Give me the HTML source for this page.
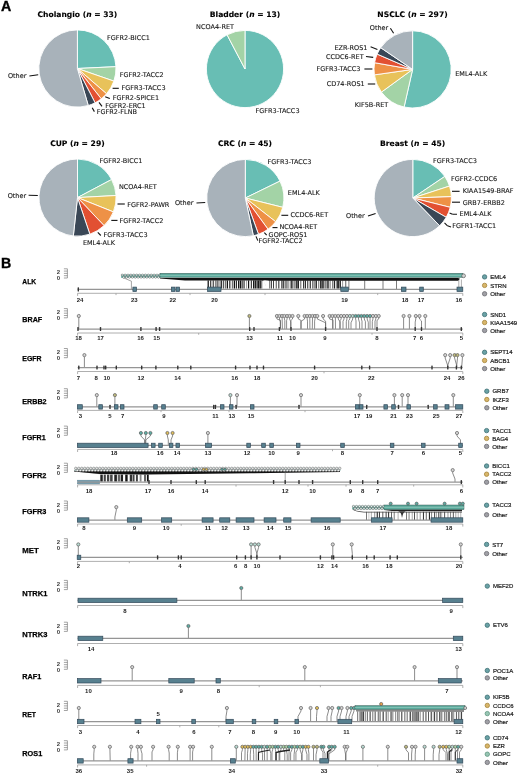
<!DOCTYPE html>
<html><head><meta charset="utf-8"><title>Fusion figure</title><style>
html,body{margin:0;padding:0;background:#fff;width:520px;height:774px;overflow:hidden}
svg{display:block}
.tt{font-family:"DejaVu Sans",sans-serif;font-weight:bold;font-size:7.6px;fill:#000;stroke:#000;stroke-width:0.12}
.pl{font-family:"DejaVu Sans",sans-serif;font-size:6.5px;fill:#151515;stroke:#151515;stroke-width:0.1}
.ld{stroke:#111;stroke-width:1.1}
.pn{font-family:"Liberation Sans",Arial,sans-serif;font-weight:bold;font-size:14.2px;fill:#000;stroke:#000;stroke-width:0.35}
.gn{font-family:"Liberation Sans",Arial,sans-serif;font-weight:bold;font-size:7.8px;fill:#000;stroke:#000;stroke-width:0.25}
.yl{font-family:"Liberation Sans",Arial,sans-serif;font-weight:bold;font-size:6.0px;fill:#3a3a3a;text-anchor:middle}
.ya{stroke:#666;stroke-width:0.6}
.tr{stroke:#959595;stroke-width:1.25}
.xa{stroke:#9a9a9a;stroke-width:0.8;fill:none}
.ex{fill:#57808f;stroke:#33495a;stroke-width:0.7}
.br{fill:#333}
.xn{font-family:"Liberation Sans",Arial,sans-serif;font-weight:bold;font-size:6.0px;fill:#222;text-anchor:middle}
.st{stroke:#5a5a5a;stroke-width:0.7;fill:none}
.hd{stroke:#555;stroke-width:0.65}
.lg{stroke:#666;stroke-width:0.5}
.lt{font-family:"Liberation Sans",Arial,sans-serif;font-size:6px;fill:#1a1a1a;stroke:#1a1a1a;stroke-width:0.2}
</style></head>
<body><svg width="520" height="774" viewBox="0 0 520 774">
<rect width="520" height="774" fill="#fff"/>
<path d="M77.4,68.5 L77.4,29.9 A38.6,38.6 0 0 1 115.96,66.66 Z" fill="#68beb4" stroke="#fff" stroke-width="0.9" stroke-linejoin="round"/>
<path d="M77.4,68.5 L115.96,66.66 A38.6,38.6 0 0 1 113.88,81.12 Z" fill="#a3d3a6" stroke="#fff" stroke-width="0.9" stroke-linejoin="round"/>
<path d="M77.4,68.5 L113.88,81.12 A38.6,38.6 0 0 1 106.57,93.78 Z" fill="#e8c25a" stroke="#fff" stroke-width="0.9" stroke-linejoin="round"/>
<path d="M77.4,68.5 L106.57,93.78 A38.6,38.6 0 0 1 101.26,98.84 Z" fill="#ee9146" stroke="#fff" stroke-width="0.9" stroke-linejoin="round"/>
<path d="M77.4,68.5 L101.26,98.84 A38.6,38.6 0 0 1 95.09,102.81 Z" fill="#e25032" stroke="#fff" stroke-width="0.9" stroke-linejoin="round"/>
<path d="M77.4,68.5 L95.09,102.81 A38.6,38.6 0 0 1 88.27,105.54 Z" fill="#3a4756" stroke="#fff" stroke-width="0.9" stroke-linejoin="round"/>
<path d="M77.4,68.5 L88.27,105.54 A38.6,38.6 0 1 1 77.4,29.9 Z" fill="#a8b2ba" stroke="#fff" stroke-width="0.9" stroke-linejoin="round"/>
<path d="M245,69 L245,30.4 A38.6,38.6 0 1 1 227.06,34.82 Z" fill="#68beb4" stroke="#fff" stroke-width="0.9" stroke-linejoin="round"/>
<path d="M245,69 L227.06,34.82 A38.6,38.6 0 0 1 245,30.4 Z" fill="#a3d3a6" stroke="#fff" stroke-width="0.9" stroke-linejoin="round"/>
<path d="M412.6,69.4 L412.6,30.8 A38.6,38.6 0 1 1 404.1,107.05 Z" fill="#68beb4" stroke="#fff" stroke-width="0.9" stroke-linejoin="round"/>
<path d="M412.6,69.4 L404.1,107.05 A38.6,38.6 0 0 1 381.4,92.12 Z" fill="#a3d3a6" stroke="#fff" stroke-width="0.9" stroke-linejoin="round"/>
<path d="M412.6,69.4 L381.4,92.12 A38.6,38.6 0 0 1 374.39,74.89 Z" fill="#e8c25a" stroke="#fff" stroke-width="0.9" stroke-linejoin="round"/>
<path d="M412.6,69.4 L374.39,74.89 A38.6,38.6 0 0 1 374.59,62.7 Z" fill="#ee9146" stroke="#fff" stroke-width="0.9" stroke-linejoin="round"/>
<path d="M412.6,69.4 L374.59,62.7 A38.6,38.6 0 0 1 377.16,54.11 Z" fill="#e25032" stroke="#fff" stroke-width="0.9" stroke-linejoin="round"/>
<path d="M412.6,69.4 L377.16,54.11 A38.6,38.6 0 0 1 380.69,47.68 Z" fill="#3a4756" stroke="#fff" stroke-width="0.9" stroke-linejoin="round"/>
<path d="M412.6,69.4 L380.69,47.68 A38.6,38.6 0 0 1 412.6,30.8 Z" fill="#a8b2ba" stroke="#fff" stroke-width="0.9" stroke-linejoin="round"/>
<path d="M77.5,197.6 L77.5,159 A38.6,38.6 0 0 1 111.6,179.52 Z" fill="#68beb4" stroke="#fff" stroke-width="0.9" stroke-linejoin="round"/>
<path d="M77.5,197.6 L111.6,179.52 A38.6,38.6 0 0 1 116.04,195.51 Z" fill="#a3d3a6" stroke="#fff" stroke-width="0.9" stroke-linejoin="round"/>
<path d="M77.5,197.6 L116.04,195.51 A38.6,38.6 0 0 1 113.36,211.89 Z" fill="#e8c25a" stroke="#fff" stroke-width="0.9" stroke-linejoin="round"/>
<path d="M77.5,197.6 L113.36,211.89 A38.6,38.6 0 0 1 104.05,225.62 Z" fill="#ee9146" stroke="#fff" stroke-width="0.9" stroke-linejoin="round"/>
<path d="M77.5,197.6 L104.05,225.62 A38.6,38.6 0 0 1 89.83,234.18 Z" fill="#e25032" stroke="#fff" stroke-width="0.9" stroke-linejoin="round"/>
<path d="M77.5,197.6 L89.83,234.18 A38.6,38.6 0 0 1 73.33,235.97 Z" fill="#3a4756" stroke="#fff" stroke-width="0.9" stroke-linejoin="round"/>
<path d="M77.5,197.6 L73.33,235.97 A38.6,38.6 0 0 1 77.5,159 Z" fill="#a8b2ba" stroke="#fff" stroke-width="0.9" stroke-linejoin="round"/>
<path d="M245.3,198 L245.3,159.4 A38.6,38.6 0 0 1 279.99,181.08 Z" fill="#68beb4" stroke="#fff" stroke-width="0.9" stroke-linejoin="round"/>
<path d="M245.3,198 L279.99,181.08 A38.6,38.6 0 0 1 282.75,207.34 Z" fill="#a3d3a6" stroke="#fff" stroke-width="0.9" stroke-linejoin="round"/>
<path d="M245.3,198 L282.75,207.34 A38.6,38.6 0 0 1 275.72,221.76 Z" fill="#e8c25a" stroke="#fff" stroke-width="0.9" stroke-linejoin="round"/>
<path d="M245.3,198 L275.72,221.76 A38.6,38.6 0 0 1 267.99,229.23 Z" fill="#ee9146" stroke="#fff" stroke-width="0.9" stroke-linejoin="round"/>
<path d="M245.3,198 L267.99,229.23 A38.6,38.6 0 0 1 258.5,234.27 Z" fill="#e25032" stroke="#fff" stroke-width="0.9" stroke-linejoin="round"/>
<path d="M245.3,198 L258.5,234.27 A38.6,38.6 0 0 1 253.33,235.76 Z" fill="#3a4756" stroke="#fff" stroke-width="0.9" stroke-linejoin="round"/>
<path d="M245.3,198 L253.33,235.76 A38.6,38.6 0 1 1 245.3,159.4 Z" fill="#a8b2ba" stroke="#fff" stroke-width="0.9" stroke-linejoin="round"/>
<path d="M412.8,198 L412.8,159.4 A38.6,38.6 0 0 1 444.8,176.42 Z" fill="#68beb4" stroke="#fff" stroke-width="0.9" stroke-linejoin="round"/>
<path d="M412.8,198 L444.8,176.42 A38.6,38.6 0 0 1 449.51,186.07 Z" fill="#a3d3a6" stroke="#fff" stroke-width="0.9" stroke-linejoin="round"/>
<path d="M412.8,198 L449.51,186.07 A38.6,38.6 0 0 1 451.38,196.65 Z" fill="#e8c25a" stroke="#fff" stroke-width="0.9" stroke-linejoin="round"/>
<path d="M412.8,198 L451.38,196.65 A38.6,38.6 0 0 1 450.25,207.34 Z" fill="#ee9146" stroke="#fff" stroke-width="0.9" stroke-linejoin="round"/>
<path d="M412.8,198 L450.25,207.34 A38.6,38.6 0 0 1 446.23,217.3 Z" fill="#e25032" stroke="#fff" stroke-width="0.9" stroke-linejoin="round"/>
<path d="M412.8,198 L446.23,217.3 A38.6,38.6 0 0 1 439.61,225.77 Z" fill="#3a4756" stroke="#fff" stroke-width="0.9" stroke-linejoin="round"/>
<path d="M412.8,198 L439.61,225.77 A38.6,38.6 0 1 1 412.8,159.4 Z" fill="#a8b2ba" stroke="#fff" stroke-width="0.9" stroke-linejoin="round"/>
<text x="77.4" y="17" text-anchor="middle" class="tt">Cholangio (<tspan font-style="italic">n</tspan> = 33)</text>
<text x="245" y="16.8" text-anchor="middle" class="tt">Bladder (<tspan font-style="italic">n</tspan> = 13)</text>
<text x="412.5" y="16.8" text-anchor="middle" class="tt">NSCLC (<tspan font-style="italic">n</tspan> = 297)</text>
<text x="77.4" y="146.2" text-anchor="middle" class="tt">CUP (<tspan font-style="italic">n</tspan> = 29)</text>
<text x="245" y="146.2" text-anchor="middle" class="tt">CRC (<tspan font-style="italic">n</tspan> = 45)</text>
<text x="412.6" y="146.2" text-anchor="middle" class="tt">Breast (<tspan font-style="italic">n</tspan> = 45)</text>
<text x="107" y="40" class="pl">FGFR2-BICC1</text>
<text x="119.8" y="77" class="pl">FGFR2-TACC2</text>
<text x="121.6" y="90.4" class="pl">FGFR3-TACC3</text>
<line x1="112.6" y1="88.3" x2="118.8" y2="88.3" class="ld"/>
<text x="112.8" y="100.4" class="pl">FGFR2-SPICE1</text>
<line x1="105.2" y1="96.8" x2="109.8" y2="98.6" class="ld"/>
<text x="105.2" y="107.7" class="pl">FGFR2-ERC1</text>
<line x1="99" y1="102.4" x2="102" y2="106.4" class="ld"/>
<text x="96.8" y="114.2" class="pl">FGFR2-FLNB</text>
<line x1="92.2" y1="107.8" x2="94.4" y2="111.6" class="ld"/>
<text x="7.9" y="78.2" class="pl">Other</text>
<line x1="29.4" y1="76" x2="38.2" y2="74.8" class="ld"/>
<text x="196.1" y="29.2" class="pl">NCOA4-RET</text>
<text x="255.6" y="112.9" class="pl">FGFR3-TACC3</text>
<text x="369.8" y="29.7" class="pl">Other</text>
<line x1="390.4" y1="28.2" x2="393.6" y2="33.2" class="ld"/>
<text x="334.4" y="49.7" class="pl">EZR-ROS1</text>
<line x1="370.6" y1="46.8" x2="377.4" y2="49.4" class="ld"/>
<text x="326" y="58.9" class="pl">CCDC6-RET</text>
<line x1="366" y1="56.5" x2="373.2" y2="57.4" class="ld"/>
<text x="360.5" y="70.7" class="pl" text-anchor="end">FGFR3-TACC3</text>
<line x1="364.4" y1="69" x2="372.4" y2="69" class="ld"/>
<text x="326.7" y="86.2" class="pl">CD74-ROS1</text>
<line x1="367.8" y1="84" x2="375.2" y2="84" class="ld"/>
<text x="354.8" y="106.7" class="pl">KIF5B-RET</text>
<text x="455.2" y="75.9" class="pl">EML4-ALK</text>
<text x="99.6" y="163.1" class="pl">FGFR2-BICC1</text>
<text x="118.9" y="188.6" class="pl">NCOA4-RET</text>
<text x="127.3" y="206.6" class="pl">FGFR2-PAWR</text>
<line x1="117.5" y1="204" x2="124.8" y2="204" class="ld"/>
<text x="119.4" y="223.2" class="pl">FGFR2-TACC2</text>
<line x1="111.3" y1="220.4" x2="117.5" y2="220.4" class="ld"/>
<text x="103.6" y="237" class="pl">FGFR3-TACC3</text>
<line x1="97.8" y1="232.4" x2="100.8" y2="235.5" class="ld"/>
<text x="82.9" y="244.7" class="pl">EML4-ALK</text>
<text x="7.7" y="197.5" class="pl">Other</text>
<line x1="28.6" y1="195.3" x2="37.8" y2="195.5" class="ld"/>
<text x="267.5" y="163.5" class="pl">FGFR3-TACC3</text>
<text x="287.8" y="195.4" class="pl">EML4-ALK</text>
<text x="290.5" y="217" class="pl">CCDC6-RET</text>
<line x1="281.4" y1="215.3" x2="288.2" y2="215.3" class="ld"/>
<text x="279.4" y="229.3" class="pl">NCOA4-RET</text>
<line x1="272.5" y1="227.6" x2="277.5" y2="227.6" class="ld"/>
<text x="268.6" y="237.3" class="pl">GOPC-ROS1</text>
<line x1="264.3" y1="232.6" x2="266.7" y2="235.2" class="ld"/>
<text x="258.6" y="243.2" class="pl">FGFR2-TACC2</text>
<line x1="256" y1="236.4" x2="257.8" y2="240.6" class="ld"/>
<text x="174.9" y="205.4" class="pl">Other</text>
<line x1="196.5" y1="203" x2="205.2" y2="202.5" class="ld"/>
<text x="432.9" y="162.7" class="pl">FGFR3-TACC3</text>
<text x="450.9" y="181.2" class="pl">FGFR2-CCDC6</text>
<text x="462.7" y="193.3" class="pl">KIAA1549-BRAF</text>
<line x1="452" y1="191.3" x2="459.6" y2="191.3" class="ld"/>
<text x="462.7" y="204.7" class="pl">GRB7-ERBB2</text>
<line x1="452" y1="202.2" x2="460" y2="202.2" class="ld"/>
<text x="459.6" y="216" class="pl">EML4-ALK</text>
<line x1="449.6" y1="213" x2="452.5" y2="214.2" class="ld"/>
<line x1="452.5" y1="214.2" x2="457" y2="214.3" class="ld"/>
<text x="452.3" y="227.6" class="pl">FGFR1-TACC1</text>
<line x1="444.5" y1="222.8" x2="447.5" y2="225.8" class="ld"/>
<line x1="447.5" y1="225.8" x2="451" y2="227" class="ld"/>
<text x="346.1" y="217.5" class="pl">Other</text>
<line x1="368" y1="215.9" x2="375.6" y2="213.4" class="ld"/>
<text x="1.0" y="11.3" class="pn">A</text>
<text x="1.0" y="267.6" class="pn">B</text>
<line x1="67.4" y1="268.8" x2="67.4" y2="278" class="ya"/>
<line x1="63.9" y1="268.8" x2="67.4" y2="268.8" class="ya"/>
<line x1="63.9" y1="271.1" x2="67.4" y2="271.1" class="ya"/>
<line x1="63.9" y1="273.4" x2="67.4" y2="273.4" class="ya"/>
<line x1="63.9" y1="275.7" x2="67.4" y2="275.7" class="ya"/>
<line x1="63.9" y1="278" x2="67.4" y2="278" class="ya"/>
<path d="M77.6,295.9 V293.3 H462.8 V295.9" class="xa"/>
<line x1="116" y1="293.3" x2="116" y2="295.1" class="xa"/>
<line x1="190" y1="293.3" x2="190" y2="295.1" class="xa"/>
<line x1="265" y1="293.3" x2="265" y2="295.1" class="xa"/>
<line x1="377.7" y1="293.3" x2="377.7" y2="295.1" class="xa"/>
<line x1="67.4" y1="308.6" x2="67.4" y2="317.8" class="ya"/>
<line x1="63.9" y1="308.6" x2="67.4" y2="308.6" class="ya"/>
<line x1="63.9" y1="310.9" x2="67.4" y2="310.9" class="ya"/>
<line x1="63.9" y1="313.2" x2="67.4" y2="313.2" class="ya"/>
<line x1="63.9" y1="315.5" x2="67.4" y2="315.5" class="ya"/>
<line x1="63.9" y1="317.8" x2="67.4" y2="317.8" class="ya"/>
<path d="M77.6,335.6 V333 H462.8 V335.6" class="xa"/>
<line x1="198.7" y1="333" x2="198.7" y2="334.8" class="xa"/>
<line x1="372" y1="333" x2="372" y2="334.8" class="xa"/>
<line x1="67.4" y1="348.5" x2="67.4" y2="357.7" class="ya"/>
<line x1="63.9" y1="348.5" x2="67.4" y2="348.5" class="ya"/>
<line x1="63.9" y1="350.8" x2="67.4" y2="350.8" class="ya"/>
<line x1="63.9" y1="353.1" x2="67.4" y2="353.1" class="ya"/>
<line x1="63.9" y1="355.4" x2="67.4" y2="355.4" class="ya"/>
<line x1="63.9" y1="357.7" x2="67.4" y2="357.7" class="ya"/>
<path d="M77.6,374.1 V371.5 H462.8 V374.1" class="xa"/>
<line x1="324" y1="371.5" x2="324" y2="373.3" class="xa"/>
<line x1="67.4" y1="388.7" x2="67.4" y2="397.9" class="ya"/>
<line x1="63.9" y1="388.7" x2="67.4" y2="388.7" class="ya"/>
<line x1="63.9" y1="391" x2="67.4" y2="391" class="ya"/>
<line x1="63.9" y1="393.3" x2="67.4" y2="393.3" class="ya"/>
<line x1="63.9" y1="395.6" x2="67.4" y2="395.6" class="ya"/>
<line x1="63.9" y1="397.9" x2="67.4" y2="397.9" class="ya"/>
<path d="M77.6,413 V410.4 H462.8 V413" class="xa"/>
<line x1="161" y1="410.4" x2="161" y2="412.2" class="xa"/>
<line x1="229" y1="410.4" x2="229" y2="412.2" class="xa"/>
<line x1="305" y1="410.4" x2="305" y2="412.2" class="xa"/>
<line x1="67.4" y1="426.1" x2="67.4" y2="435.3" class="ya"/>
<line x1="63.9" y1="426.1" x2="67.4" y2="426.1" class="ya"/>
<line x1="63.9" y1="428.4" x2="67.4" y2="428.4" class="ya"/>
<line x1="63.9" y1="430.7" x2="67.4" y2="430.7" class="ya"/>
<line x1="63.9" y1="433" x2="67.4" y2="433" class="ya"/>
<line x1="63.9" y1="435.3" x2="67.4" y2="435.3" class="ya"/>
<path d="M77.6,452 V449.4 H462.8 V452" class="xa"/>
<line x1="332.5" y1="449.4" x2="332.5" y2="451.2" class="xa"/>
<line x1="67.4" y1="463.2" x2="67.4" y2="472.4" class="ya"/>
<line x1="63.9" y1="463.2" x2="67.4" y2="463.2" class="ya"/>
<line x1="63.9" y1="465.5" x2="67.4" y2="465.5" class="ya"/>
<line x1="63.9" y1="467.8" x2="67.4" y2="467.8" class="ya"/>
<line x1="63.9" y1="470.1" x2="67.4" y2="470.1" class="ya"/>
<line x1="63.9" y1="472.4" x2="67.4" y2="472.4" class="ya"/>
<path d="M77.6,487.4 V484.8 H462.8 V487.4" class="xa"/>
<line x1="236" y1="484.8" x2="236" y2="486.6" class="xa"/>
<line x1="308" y1="484.8" x2="308" y2="486.6" class="xa"/>
<line x1="346" y1="484.8" x2="346" y2="486.6" class="xa"/>
<line x1="413.7" y1="484.8" x2="413.7" y2="486.6" class="xa"/>
<line x1="67.4" y1="501" x2="67.4" y2="510.2" class="ya"/>
<line x1="63.9" y1="501" x2="67.4" y2="501" class="ya"/>
<line x1="63.9" y1="503.3" x2="67.4" y2="503.3" class="ya"/>
<line x1="63.9" y1="505.6" x2="67.4" y2="505.6" class="ya"/>
<line x1="63.9" y1="507.9" x2="67.4" y2="507.9" class="ya"/>
<line x1="63.9" y1="510.2" x2="67.4" y2="510.2" class="ya"/>
<path d="M77.6,526.6 V524 H462.8 V526.6" class="xa"/>
<line x1="181.2" y1="524" x2="181.2" y2="525.8" class="xa"/>
<line x1="67.4" y1="538.7" x2="67.4" y2="547.9" class="ya"/>
<line x1="63.9" y1="538.7" x2="67.4" y2="538.7" class="ya"/>
<line x1="63.9" y1="541" x2="67.4" y2="541" class="ya"/>
<line x1="63.9" y1="543.3" x2="67.4" y2="543.3" class="ya"/>
<line x1="63.9" y1="545.6" x2="67.4" y2="545.6" class="ya"/>
<line x1="63.9" y1="547.9" x2="67.4" y2="547.9" class="ya"/>
<path d="M77.6,564 V561.4 H462.8 V564" class="xa"/>
<line x1="129.3" y1="561.4" x2="129.3" y2="563.2" class="xa"/>
<line x1="67.4" y1="580.4" x2="67.4" y2="589.6" class="ya"/>
<line x1="63.9" y1="580.4" x2="67.4" y2="580.4" class="ya"/>
<line x1="63.9" y1="582.7" x2="67.4" y2="582.7" class="ya"/>
<line x1="63.9" y1="585" x2="67.4" y2="585" class="ya"/>
<line x1="63.9" y1="587.3" x2="67.4" y2="587.3" class="ya"/>
<line x1="63.9" y1="589.6" x2="67.4" y2="589.6" class="ya"/>
<path d="M77.6,608.1 V605.5 H462.8 V608.1" class="xa"/>
<line x1="67.4" y1="622.2" x2="67.4" y2="631.4" class="ya"/>
<line x1="63.9" y1="622.2" x2="67.4" y2="622.2" class="ya"/>
<line x1="63.9" y1="624.5" x2="67.4" y2="624.5" class="ya"/>
<line x1="63.9" y1="626.8" x2="67.4" y2="626.8" class="ya"/>
<line x1="63.9" y1="629.1" x2="67.4" y2="629.1" class="ya"/>
<line x1="63.9" y1="631.4" x2="67.4" y2="631.4" class="ya"/>
<path d="M77.6,646.1 V643.5 H462.8 V646.1" class="xa"/>
<line x1="67.4" y1="660.1" x2="67.4" y2="669.3" class="ya"/>
<line x1="63.9" y1="660.1" x2="67.4" y2="660.1" class="ya"/>
<line x1="63.9" y1="662.4" x2="67.4" y2="662.4" class="ya"/>
<line x1="63.9" y1="664.7" x2="67.4" y2="664.7" class="ya"/>
<line x1="63.9" y1="667" x2="67.4" y2="667" class="ya"/>
<line x1="63.9" y1="669.3" x2="67.4" y2="669.3" class="ya"/>
<path d="M77.6,688 V685.4 H462.8 V688" class="xa"/>
<line x1="259.2" y1="685.4" x2="259.2" y2="687.2" class="xa"/>
<line x1="320.4" y1="685.4" x2="320.4" y2="687.2" class="xa"/>
<line x1="67.4" y1="701.3" x2="67.4" y2="710.5" class="ya"/>
<line x1="63.9" y1="701.3" x2="67.4" y2="701.3" class="ya"/>
<line x1="63.9" y1="703.6" x2="67.4" y2="703.6" class="ya"/>
<line x1="63.9" y1="705.9" x2="67.4" y2="705.9" class="ya"/>
<line x1="63.9" y1="708.2" x2="67.4" y2="708.2" class="ya"/>
<line x1="63.9" y1="710.5" x2="67.4" y2="710.5" class="ya"/>
<path d="M77.6,728.1 V725.5 H462.8 V728.1" class="xa"/>
<line x1="179.8" y1="725.5" x2="179.8" y2="727.3" class="xa"/>
<line x1="218.8" y1="725.5" x2="218.8" y2="727.3" class="xa"/>
<line x1="67.4" y1="740.7" x2="67.4" y2="749.9" class="ya"/>
<line x1="63.9" y1="740.7" x2="67.4" y2="740.7" class="ya"/>
<line x1="63.9" y1="743" x2="67.4" y2="743" class="ya"/>
<line x1="63.9" y1="745.3" x2="67.4" y2="745.3" class="ya"/>
<line x1="63.9" y1="747.6" x2="67.4" y2="747.6" class="ya"/>
<line x1="63.9" y1="749.9" x2="67.4" y2="749.9" class="ya"/>
<path d="M77.6,767.5 V764.9 H462.8 V767.5" class="xa"/>
<line x1="146.6" y1="764.9" x2="146.6" y2="766.7" class="xa"/>
<line x1="377.7" y1="764.9" x2="377.7" y2="766.7" class="xa"/>
<rect x="207.5" y="280.4" width="1.49" height="8.2" fill="#333"/>
<rect x="210.11" y="280.4" width="1.16" height="8.2" fill="#333"/>
<rect x="212.73" y="280.4" width="0.95" height="8.2" fill="#111"/>
<rect x="214.89" y="280.4" width="1.29" height="8.2" fill="#888"/>
<rect x="216.63" y="280.4" width="1.04" height="8.2" fill="#333"/>
<rect x="218.25" y="280.4" width="1.31" height="8.2" fill="#888"/>
<rect x="220.52" y="280.4" width="1.57" height="8.2" fill="#333"/>
<rect x="222.88" y="280.4" width="1.32" height="8.2" fill="#555"/>
<rect x="225.19" y="280.4" width="0.85" height="8.2" fill="#555"/>
<rect x="226.73" y="280.4" width="1.28" height="8.2" fill="#111"/>
<rect x="229.24" y="280.4" width="1.15" height="8.2" fill="#222"/>
<rect x="231.84" y="280.4" width="0.99" height="8.2" fill="#555"/>
<rect x="233.72" y="280.4" width="1.33" height="8.2" fill="#111"/>
<rect x="235.82" y="280.4" width="1.13" height="8.2" fill="#222"/>
<rect x="238.03" y="280.4" width="1.37" height="8.2" fill="#111"/>
<rect x="239.94" y="280.4" width="1.21" height="8.2" fill="#111"/>
<rect x="241.48" y="280.4" width="1.41" height="8.2" fill="#555"/>
<rect x="243.5" y="280.4" width="1.11" height="8.2" fill="#222"/>
<rect x="246.25" y="280.4" width="0.8" height="8.2" fill="#888"/>
<rect x="248.02" y="280.4" width="1.18" height="8.2" fill="#111"/>
<rect x="250.79" y="280.4" width="1.14" height="8.2" fill="#333"/>
<rect x="253.03" y="280.4" width="1.42" height="8.2" fill="#111"/>
<rect x="254.88" y="280.4" width="1.05" height="8.2" fill="#111"/>
<rect x="256.4" y="280.4" width="1.41" height="8.2" fill="#333"/>
<rect x="258.05" y="280.4" width="1.37" height="8.2" fill="#111"/>
<rect x="259.57" y="280.4" width="1.44" height="8.2" fill="#333"/>
<rect x="261.3" y="280.4" width="0.95" height="8.2" fill="#555"/>
<rect x="269" y="280.4" width="1.42" height="8.2" fill="#888"/>
<rect x="271.04" y="280.4" width="0.89" height="8.2" fill="#333"/>
<rect x="273.09" y="280.4" width="0.8" height="8.2" fill="#111"/>
<rect x="275.72" y="280.4" width="1.04" height="8.2" fill="#555"/>
<rect x="278.37" y="280.4" width="0.95" height="8.2" fill="#111"/>
<rect x="281.16" y="280.4" width="1.31" height="8.2" fill="#555"/>
<rect x="282.79" y="280.4" width="0.97" height="8.2" fill="#111"/>
<rect x="284.63" y="280.4" width="1.06" height="8.2" fill="#555"/>
<rect x="286.51" y="280.4" width="0.86" height="8.2" fill="#111"/>
<rect x="288.28" y="280.4" width="0.99" height="8.2" fill="#888"/>
<rect x="290.56" y="280.4" width="1.3" height="8.2" fill="#222"/>
<rect x="292.23" y="280.4" width="1.19" height="8.2" fill="#555"/>
<rect x="294.48" y="280.4" width="0.95" height="8.2" fill="#333"/>
<rect x="296.18" y="280.4" width="1.45" height="8.2" fill="#111"/>
<rect x="298" y="280.4" width="0.93" height="8.2" fill="#111"/>
<rect x="300.32" y="280.4" width="0.96" height="8.2" fill="#555"/>
<rect x="303.05" y="280.4" width="1.28" height="8.2" fill="#333"/>
<rect x="305.1" y="280.4" width="0.89" height="8.2" fill="#111"/>
<rect x="307.27" y="280.4" width="0.99" height="8.2" fill="#222"/>
<rect x="309.68" y="280.4" width="1.14" height="8.2" fill="#222"/>
<rect x="312.36" y="280.4" width="1.03" height="8.2" fill="#333"/>
<rect x="314.09" y="280.4" width="1.58" height="8.2" fill="#888"/>
<rect x="315.75" y="280.4" width="1.25" height="8.2" fill="#333"/>
<rect x="318.36" y="280.4" width="0.86" height="8.2" fill="#555"/>
<rect x="320.14" y="280.4" width="1.4" height="8.2" fill="#111"/>
<rect x="321.73" y="280.4" width="1.16" height="8.2" fill="#333"/>
<rect x="323.31" y="280.4" width="1.03" height="8.2" fill="#111"/>
<rect x="325.5" y="280.4" width="0.87" height="8.2" fill="#111"/>
<rect x="327.18" y="280.4" width="1.58" height="8.2" fill="#333"/>
<rect x="329.53" y="280.4" width="1.22" height="8.2" fill="#888"/>
<rect x="332.26" y="280.4" width="0.83" height="8.2" fill="#555"/>
<rect x="333.78" y="280.4" width="1.36" height="8.2" fill="#222"/>
<rect x="336.54" y="280.4" width="1.28" height="8.2" fill="#111"/>
<rect x="338.13" y="280.4" width="1.38" height="8.2" fill="#111"/>
<rect x="340.05" y="280.4" width="0.86" height="8.2" fill="#111"/>
<rect x="342.26" y="280.4" width="0.84" height="8.2" fill="#888"/>
<rect x="344.98" y="280.4" width="1.36" height="8.2" fill="#888"/>
<line x1="348.9" y1="289.3" x2="348.9" y2="280.4" stroke="#444" stroke-width="0.7"/>
<line x1="364.7" y1="289.3" x2="364.7" y2="280.4" stroke="#444" stroke-width="0.7"/>
<line x1="383.0" y1="289.3" x2="383.0" y2="280.4" stroke="#444" stroke-width="0.7"/>
<line x1="396.5" y1="289.3" x2="396.5" y2="280.4" stroke="#444" stroke-width="0.7"/>
<line x1="458.8" y1="289.3" x2="458.8" y2="279.5" stroke="#777" stroke-width="0.6"/>
<line x1="461.4" y1="289.3" x2="461.4" y2="279.5" stroke="#777" stroke-width="0.6"/>
<path d="M160,278.0 L458,278.0 L460,278.8 L458,280.8 L269,280.8 L262,280.6 L185,280.5 L160,278.6 Z" fill="#111"/>
<path d="M262,278.6 Q264.8,279.2 265.2,286 Q265.8,279.2 268.5,278.6 L268.5,280.9 L262,280.9 Z" fill="#111"/>
<path d="M262,280.5 Q264.8,281 265.3,288 Q265.9,281 269,280.5 Z" fill="#fff"/>
<polyline points="131.4,289.3 131.4,281.2 123,277.6" stroke="#666" stroke-width="0.6" fill="none"/>
<line x1="78.8" y1="329" x2="78.8" y2="317.5" class="st"/>
<line x1="249.4" y1="329" x2="249.4" y2="317.5" class="st"/>
<polyline points="280.4,329 280.4,320.25 276.9,319 276.9,317.5" class="st"/>
<polyline points="280.4,329 280.4,321.94 279.5,319 279.5,317.5" class="st"/>
<line x1="282.4" y1="329" x2="282.1" y2="317.5" class="st"/>
<polyline points="284.8,329 284.8,320.3 284.4,319 284.4,317.5" class="st"/>
<polyline points="286.6,329 286.6,320.39 287.1,319 287.1,317.5" class="st"/>
<polyline points="290.8,329 290.8,321.75 289.6,319 289.6,317.5" class="st"/>
<polyline points="290.8,329 290.8,320.63 292.5,319 292.5,317.5" class="st"/>
<polyline points="301,329 301,320.41 298.3,319 298.3,317.5" class="st"/>
<polyline points="301,329 301,321.28 304.6,319 304.6,317.5" class="st"/>
<polyline points="307.5,329 307.5,321.13 307.2,319 307.2,317.5" class="st"/>
<line x1="309.9" y1="329" x2="309.8" y2="317.5" class="st"/>
<line x1="312.3" y1="329" x2="312.5" y2="317.5" class="st"/>
<polyline points="314.6,329 314.6,321.17 315,319 315,317.5" class="st"/>
<polyline points="325.6,329 325.6,322.76 317.3,319 317.3,317.5" class="st"/>
<polyline points="325.6,329 325.6,321.08 323.1,319 323.1,317.5" class="st"/>
<polyline points="332.8,329 332.8,320.02 329.6,319 329.6,317.5" class="st"/>
<polyline points="332.8,329 332.8,320.36 332.49,319 332.49,317.5" class="st"/>
<line x1="335.5" y1="329" x2="335.38" y2="317.5" class="st"/>
<polyline points="340,329 340,321.83 338.27,319 338.27,317.5" class="st"/>
<polyline points="340,329 340,320.79 341.16,319 341.16,317.5" class="st"/>
<polyline points="343,329 343,321.26 344.05,319 344.05,317.5" class="st"/>
<polyline points="346.3,329 346.3,321.68 346.94,319 346.94,317.5" class="st"/>
<polyline points="348.7,329 348.7,320.48 349.83,319 349.83,317.5" class="st"/>
<polyline points="351,329 351,322.75 352.72,319 352.72,317.5" class="st"/>
<polyline points="356,329 356,320.75 355.61,319 355.61,317.5" class="st"/>
<polyline points="359.6,329 359.6,322.91 358.5,319 358.5,317.5" class="st"/>
<polyline points="362,329 362,321.2 361.39,319 361.39,317.5" class="st"/>
<polyline points="365.4,329 365.4,321.56 364.28,319 364.28,317.5" class="st"/>
<polyline points="368.3,329 368.3,322.31 367.17,319 367.17,317.5" class="st"/>
<line x1="370" y1="329" x2="370.06" y2="317.5" class="st"/>
<polyline points="372.3,329 372.3,321.51 372.95,319 372.95,317.5" class="st"/>
<polyline points="375,329 375,321.16 375.84,319 375.84,317.5" class="st"/>
<polyline points="377,329 377,320.24 378.73,319 378.73,317.5" class="st"/>
<line x1="403.6" y1="329" x2="403.6" y2="317.5" class="st"/>
<line x1="409.4" y1="329" x2="409.4" y2="317.5" class="st"/>
<polyline points="415.2,329 415.2,322.1 415.8,319 415.8,317.5" class="st"/>
<polyline points="421.5,329 421.5,320.97 419.5,319 419.5,317.5" class="st"/>
<line x1="425.3" y1="329" x2="425.3" y2="317.5" class="st"/>
<line x1="84.4" y1="367.5" x2="84.4" y2="356.6" class="st"/>
<polyline points="447.7,367.5 447.7,365.5 445.2,358.1 445.2,356.6" class="st"/>
<polyline points="447.7,367.5 447.7,365.5 450.2,358.1 450.2,356.6" class="st"/>
<polyline points="456.7,367.5 456.7,365.5 454.6,358.1 454.6,356.6" class="st"/>
<polyline points="456.7,367.5 456.7,365.5 457.5,358.1 457.5,356.6" class="st"/>
<polyline points="461.8,367.5 461.8,365.5 462.4,358.1 462.4,356.6" class="st"/>
<line x1="96.8" y1="406.9" x2="96.8" y2="396.6" class="st"/>
<line x1="114.9" y1="406.9" x2="114.9" y2="396.6" class="st"/>
<line x1="230.4" y1="406.9" x2="230.4" y2="396.6" class="st"/>
<line x1="237" y1="406.9" x2="237" y2="396.6" class="st"/>
<line x1="301" y1="406.9" x2="301" y2="396.6" class="st"/>
<line x1="359.8" y1="406.9" x2="359.8" y2="396.6" class="st"/>
<line x1="394.4" y1="406.9" x2="394.4" y2="396.6" class="st"/>
<line x1="402.2" y1="406.9" x2="402.2" y2="396.6" class="st"/>
<line x1="408" y1="406.9" x2="408" y2="396.6" class="st"/>
<line x1="453.3" y1="406.9" x2="453.3" y2="396.6" class="st"/>
<polyline points="144.6,445.4 144.6,439.9 140.9,436 140.9,434.5" class="st"/>
<polyline points="145.2,445.4 145.2,439.9 145.8,436 145.8,434.5" class="st"/>
<polyline points="145.8,445.4 145.8,439.9 150.4,436 150.4,434.5" class="st"/>
<polyline points="168.3,445.4 168.3,439.9 167.4,436 167.4,434.5" class="st"/>
<polyline points="171,445.4 171,439.9 172.6,436 172.6,434.5" class="st"/>
<line x1="207.9" y1="445.4" x2="207.9" y2="434.5" class="st"/>
<polyline points="460.5,445.4 460.5,439.9 457,436 457,434.5" class="st"/>
<path d="M74.5,471.4 L147,471.4 L147,474.4 L100,474.2 Z" fill="#c4c4c4"/>
<rect x="100.3" y="474.6" width="2.46" height="7" fill="#222"/>
<rect x="103.72" y="474.6" width="2.1" height="7" fill="#444"/>
<rect x="106.95" y="474.6" width="2.33" height="7" fill="#444"/>
<rect x="110.11" y="474.6" width="2.53" height="7" fill="#444"/>
<rect x="114.27" y="474.6" width="2.63" height="7" fill="#222"/>
<rect x="117.76" y="474.6" width="2.69" height="7" fill="#666"/>
<rect x="120.94" y="474.6" width="2.1" height="7" fill="#222"/>
<rect x="125.24" y="474.6" width="2.4" height="7" fill="#111"/>
<rect x="129.75" y="474.6" width="2.55" height="7" fill="#333"/>
<rect x="132.76" y="474.6" width="1.79" height="7" fill="#444"/>
<rect x="135.94" y="474.6" width="1.94" height="7" fill="#444"/>
<rect x="139.68" y="474.6" width="1.84" height="7" fill="#888"/>
<rect x="143.99" y="474.6" width="2.03" height="7" fill="#666"/>
<rect x="146.92" y="474.6" width="1.79" height="7" fill="#111"/>
<path d="M74,471.6 L100,474.0 L147,474.4 L250,473.3 L340,472.0 L340,470.9 L250,470.9 L147,470.9 L100,470.9 L74,470.6 Z" fill="#111"/>
<line x1="285.2" y1="482" x2="285.2" y2="471" stroke="#666" stroke-width="0.6"/>
<polyline points="455,482 455,479 452.7,473.1 452.7,471.6" class="st"/>
<polyline points="114.9,520 114.9,517 116.3,510.1 116.3,508.6" class="st"/>
<rect x="366" y="511.8" width="0.89" height="8.2" fill="#666"/>
<rect x="368.62" y="511.8" width="0.61" height="8.2" fill="#aaa"/>
<rect x="370.89" y="511.8" width="0.69" height="8.2" fill="#888"/>
<rect x="374.43" y="511.8" width="0.72" height="8.2" fill="#666"/>
<rect x="376.71" y="511.8" width="1.09" height="8.2" fill="#222"/>
<rect x="378.94" y="511.8" width="0.91" height="8.2" fill="#222"/>
<rect x="382.25" y="511.8" width="1.08" height="8.2" fill="#666"/>
<rect x="385.62" y="511.8" width="1.01" height="8.2" fill="#444"/>
<rect x="388.13" y="511.8" width="0.98" height="8.2" fill="#222"/>
<rect x="391.2" y="511.8" width="0.69" height="8.2" fill="#222"/>
<rect x="393.75" y="511.8" width="0.87" height="8.2" fill="#666"/>
<rect x="397.64" y="511.8" width="0.91" height="8.2" fill="#aaa"/>
<rect x="406" y="511.8" width="1.02" height="8.2" fill="#777"/>
<rect x="408.72" y="511.8" width="0.64" height="8.2" fill="#333"/>
<rect x="411.81" y="511.8" width="0.66" height="8.2" fill="#777"/>
<rect x="414.14" y="511.8" width="0.79" height="8.2" fill="#222"/>
<rect x="416.65" y="511.8" width="1" height="8.2" fill="#999"/>
<rect x="419.76" y="511.8" width="0.76" height="8.2" fill="#777"/>
<rect x="422.93" y="511.8" width="0.96" height="8.2" fill="#222"/>
<rect x="425.84" y="511.8" width="0.71" height="8.2" fill="#222"/>
<rect x="428.88" y="511.8" width="1.09" height="8.2" fill="#222"/>
<rect x="431.34" y="511.8" width="0.73" height="8.2" fill="#555"/>
<rect x="434.09" y="511.8" width="0.77" height="8.2" fill="#222"/>
<rect x="435.82" y="511.8" width="0.77" height="8.2" fill="#777"/>
<rect x="438.09" y="511.8" width="0.84" height="8.2" fill="#555"/>
<rect x="439.74" y="511.8" width="0.81" height="8.2" fill="#222"/>
<rect x="441.4" y="511.8" width="0.77" height="8.2" fill="#999"/>
<rect x="444.26" y="511.8" width="0.84" height="8.2" fill="#333"/>
<rect x="447.46" y="511.8" width="1.02" height="8.2" fill="#999"/>
<rect x="450.16" y="511.8" width="0.89" height="8.2" fill="#777"/>
<rect x="452.86" y="511.8" width="0.82" height="8.2" fill="#333"/>
<rect x="455.36" y="511.8" width="0.92" height="8.2" fill="#999"/>
<rect x="457.79" y="511.8" width="0.73" height="8.2" fill="#999"/>
<rect x="460.47" y="511.8" width="0.7" height="8.2" fill="#999"/>
<path d="M398,511.2 Q401.5,512 402,518 Q402.8,512 406,511.2 Z" fill="#333"/>
<path d="M352.5,508.6 Q355,511.5 364,511.7 L462,511.7 L462,512.4 L364,512.4 Q354.5,512.2 352,508.8 Z" fill="#444"/>
<path d="M384,509.4 L462,509.4 L462,511.2 L392,511.0 L384,510.0 Z" fill="#222"/>
<line x1="78.3" y1="557.4" x2="78.3" y2="545.9" class="st"/>
<line x1="251.1" y1="557.4" x2="251.1" y2="545.9" class="st"/>
<polyline points="256.9,557.4 256.9,553.4 254.9,547.4 254.9,545.9" class="st"/>
<polyline points="256.9,557.4 256.9,553.4 258.6,547.4 258.6,545.9" class="st"/>
<line x1="332.8" y1="557.4" x2="332.8" y2="545.9" class="st"/>
<polyline points="352.3,557.4 352.3,553.4 351.7,547.4 351.7,545.9" class="st"/>
<line x1="460.8" y1="557.4" x2="460.8" y2="545.9" class="st"/>
<line x1="241.3" y1="600.4" x2="241.3" y2="589.5" class="st"/>
<line x1="188.4" y1="638.4" x2="188.4" y2="627.5" class="st"/>
<line x1="132.2" y1="680.8" x2="132.2" y2="668.6" class="st"/>
<line x1="304.8" y1="680.8" x2="304.8" y2="668.6" class="st"/>
<line x1="414.6" y1="680.8" x2="414.6" y2="668.6" class="st"/>
<line x1="457" y1="680.8" x2="457" y2="668.6" class="st"/>
<line x1="78.8" y1="721.5" x2="78.8" y2="709.5" class="st"/>
<polyline points="226,721.5 226,716.5 226.9,711 226.9,709.5" class="st"/>
<polyline points="298,721.5 298,716.5 301,711 301,709.5" class="st"/>
<line x1="310.6" y1="721.5" x2="310.6" y2="709.5" class="st"/>
<polyline points="316.5,721.5 316.5,716.5 317,711 317,709.5" class="st"/>
<polyline points="327,721.5 327,716.5 328.5,711 328.5,709.5" class="st"/>
<polyline points="331,721.5 331,716.5 332.2,711 332.2,709.5" class="st"/>
<polyline points="337,721.5 337,716.5 338.6,711 338.6,709.5" class="st"/>
<polyline points="340,721.5 340,716.5 341.6,711 341.6,709.5" class="st"/>
<polyline points="346,721.5 346,716.5 347.4,711 347.4,709.5" class="st"/>
<polyline points="349,721.5 349,716.5 351.2,711 351.2,709.5" class="st"/>
<polyline points="352,721.5 352,716.5 354,711 354,709.5" class="st"/>
<rect x="357" y="711.2" width="1.22" height="10.3" fill="#888"/>
<rect x="359.52" y="711.2" width="1.13" height="10.3" fill="#555"/>
<rect x="361.3" y="711.2" width="1.28" height="10.3" fill="#444"/>
<rect x="362.94" y="711.2" width="1.21" height="10.3" fill="#444"/>
<rect x="365.18" y="711.2" width="0.9" height="10.3" fill="#888"/>
<rect x="366.93" y="711.2" width="0.85" height="10.3" fill="#555"/>
<rect x="369.4" y="711.2" width="1.54" height="10.3" fill="#777"/>
<rect x="372.28" y="711.2" width="1.02" height="10.3" fill="#777"/>
<rect x="374.63" y="711.2" width="1.07" height="10.3" fill="#555"/>
<rect x="377.68" y="711.2" width="1.22" height="10.3" fill="#777"/>
<rect x="379.45" y="711.2" width="1.29" height="10.3" fill="#777"/>
<rect x="382.53" y="711.2" width="1.36" height="10.3" fill="#555"/>
<rect x="385.69" y="711.2" width="0.96" height="10.3" fill="#444"/>
<rect x="387.66" y="711.2" width="1.03" height="10.3" fill="#999"/>
<rect x="390.41" y="711.2" width="1.3" height="10.3" fill="#555"/>
<rect x="392.18" y="711.2" width="1.27" height="10.3" fill="#999"/>
<rect x="395.15" y="711.2" width="1" height="10.3" fill="#888"/>
<rect x="397.06" y="711.2" width="1.5" height="10.3" fill="#888"/>
<rect x="398.7" y="711.2" width="1.13" height="10.3" fill="#999"/>
<rect x="401.15" y="711.2" width="1.23" height="10.3" fill="#555"/>
<rect x="404.13" y="711.2" width="1.31" height="10.3" fill="#888"/>
<rect x="406.58" y="711.2" width="1.29" height="10.3" fill="#888"/>
<rect x="409.55" y="711.2" width="1.53" height="10.3" fill="#555"/>
<rect x="412.15" y="711.2" width="1.52" height="10.3" fill="#666"/>
<rect x="414.26" y="711.2" width="1.51" height="10.3" fill="#666"/>
<rect x="416.17" y="711.2" width="1.51" height="10.3" fill="#555"/>
<rect x="417.98" y="711.2" width="0.91" height="10.3" fill="#555"/>
<rect x="419.72" y="711.2" width="0.88" height="10.3" fill="#777"/>
<rect x="422.65" y="711.2" width="1.23" height="10.3" fill="#777"/>
<rect x="425.38" y="711.2" width="1.12" height="10.3" fill="#555"/>
<rect x="428.08" y="711.2" width="0.88" height="10.3" fill="#444"/>
<rect x="430.59" y="711.2" width="1.53" height="10.3" fill="#666"/>
<rect x="433.74" y="711.2" width="1.36" height="10.3" fill="#444"/>
<rect x="436.36" y="711.2" width="1.2" height="10.3" fill="#666"/>
<rect x="439.05" y="711.2" width="1.44" height="10.3" fill="#555"/>
<rect x="441.42" y="711.2" width="0.83" height="10.3" fill="#444"/>
<rect x="443.91" y="711.2" width="1.52" height="10.3" fill="#888"/>
<rect x="446.28" y="711.2" width="0.95" height="10.3" fill="#555"/>
<rect x="448.2" y="711.2" width="1.59" height="10.3" fill="#555"/>
<rect x="451.29" y="711.2" width="1.26" height="10.3" fill="#444"/>
<rect x="453.1" y="711.2" width="1.17" height="10.3" fill="#999"/>
<rect x="455.92" y="711.2" width="1.11" height="10.3" fill="#666"/>
<rect x="458.21" y="711.2" width="1.14" height="10.3" fill="#666"/>
<rect x="460.77" y="711.2" width="1.31" height="10.3" fill="#444"/>
<path d="M356,709.6 L464,709.6 L464,712.0 L356,711.6 Z" fill="#8a8a8a"/>
<polyline points="93.8,760.9 93.8,753.89 94.2,749.8 94.2,748.3" class="st"/>
<line x1="110.2" y1="760.9" x2="109.9" y2="748.3" class="st"/>
<polyline points="130.6,760.9 130.6,753.19 131.2,749.8 131.2,748.3" class="st"/>
<polyline points="138,760.9 138,753.3 137.6,749.8 137.6,748.3" class="st"/>
<polyline points="142,760.9 142,753.73 140.9,749.8 140.9,748.3" class="st"/>
<polyline points="152,760.9 152,751.9 153.1,749.8 153.1,748.3" class="st"/>
<polyline points="169.2,760.9 169.2,752.97 168.6,749.8 168.6,748.3" class="st"/>
<polyline points="177.4,760.9 177.4,752.8 177.8,749.8 177.8,748.3" class="st"/>
<line x1="190.1" y1="760.9" x2="190.1" y2="748.3" class="st"/>
<polyline points="192.6,760.9 192.6,751.96 193.1,749.8 193.1,748.3" class="st"/>
<line x1="211.8" y1="760.9" x2="211.8" y2="748.3" class="st"/>
<line x1="236.3" y1="760.9" x2="236.3" y2="748.3" class="st"/>
<polyline points="241.5,760.9 241.5,752.68 242.4,749.8 242.4,748.3" class="st"/>
<line x1="244.87" y1="760.9" x2="245.15" y2="748.3" class="st"/>
<polyline points="247.48,760.9 247.48,753.7 247.9,749.8 247.9,748.3" class="st"/>
<polyline points="250.26,760.9 250.26,754.75 250.65,749.8 250.65,748.3" class="st"/>
<polyline points="253.71,760.9 253.71,754.31 253.4,749.8 253.4,748.3" class="st"/>
<line x1="256.19" y1="760.9" x2="256.15" y2="748.3" class="st"/>
<polyline points="258.37,760.9 258.37,754.6 258.9,749.8 258.9,748.3" class="st"/>
<polyline points="262.56,760.9 262.56,754.15 261.65,749.8 261.65,748.3" class="st"/>
<line x1="264.61" y1="760.9" x2="264.4" y2="748.3" class="st"/>
<line x1="267.16" y1="760.9" x2="267.15" y2="748.3" class="st"/>
<polyline points="270.81,760.9 270.81,753.38 269.9,749.8 269.9,748.3" class="st"/>
<polyline points="271.99,760.9 271.99,752 272.65,749.8 272.65,748.3" class="st"/>
<polyline points="276.13,760.9 276.13,753.2 275.4,749.8 275.4,748.3" class="st"/>
<polyline points="279.09,760.9 279.09,751.91 278.15,749.8 278.15,748.3" class="st"/>
<polyline points="279.8,760.9 279.8,752.99 280.9,749.8 280.9,748.3" class="st"/>
<polyline points="284.79,760.9 284.79,752.47 283.65,749.8 283.65,748.3" class="st"/>
<polyline points="287.2,760.9 287.2,754.67 286.4,749.8 286.4,748.3" class="st"/>
<line x1="288.87" y1="760.9" x2="289.15" y2="748.3" class="st"/>
<polyline points="290.61,760.9 290.61,752.62 291.9,749.8 291.9,748.3" class="st"/>
<polyline points="294.06,760.9 294.06,754.76 294.65,749.8 294.65,748.3" class="st"/>
<polyline points="295.93,760.9 295.93,752.11 297.4,749.8 297.4,748.3" class="st"/>
<polyline points="301.62,760.9 301.62,754.42 300.15,749.8 300.15,748.3" class="st"/>
<polyline points="302.1,760.9 302.1,753.48 302.9,749.8 302.9,748.3" class="st"/>
<polyline points="306.98,760.9 306.98,754.39 305.65,749.8 305.65,748.3" class="st"/>
<polyline points="308.9,760.9 308.9,753.41 308.4,749.8 308.4,748.3" class="st"/>
<line x1="313.5" y1="760.9" x2="313.5" y2="748.3" class="st"/>
<polyline points="316,760.9 316,754.72 317,749.8 317,748.3" class="st"/>
<polyline points="323,760.9 323,752.06 321.3,749.8 321.3,748.3" class="st"/>
<polyline points="325,760.9 325,753.64 323.4,749.8 323.4,748.3" class="st"/>
<polyline points="327.5,760.9 327.5,753.32 329.1,749.8 329.1,748.3" class="st"/>
<polyline points="328.5,760.9 328.5,753.11 331.7,749.8 331.7,748.3" class="st"/>
<polyline points="329,760.9 329,753.8 334.7,749.8 334.7,748.3" class="st"/>
<polyline points="345.5,760.9 345.5,754.04 344.7,749.8 344.7,748.3" class="st"/>
<polyline points="346,760.9 346,752.93 347.3,749.8 347.3,748.3" class="st"/>
<line x1="362.9" y1="760.9" x2="362.9" y2="748.3" class="st"/>
<line x1="387.8" y1="760.9" x2="387.8" y2="748.3" class="st"/>
<polyline points="408.5,760.9 408.5,752.75 406,749.8 406,748.3" class="st"/>
<polyline points="411.6,760.9 411.6,754.01 412,749.8 412,748.3" class="st"/>
<polyline points="415.2,760.9 415.2,754.86 415.5,749.8 415.5,748.3" class="st"/>
<line x1="424.6" y1="760.9" x2="424.6" y2="748.3" class="st"/>
<polyline points="433.2,760.9 433.2,754.77 433.6,749.8 433.6,748.3" class="st"/>
<polyline points="439,760.9 439,754.43 439.7,749.8 439.7,748.3" class="st"/>
<polyline points="446,760.9 446,752.64 443.2,749.8 443.2,748.3" class="st"/>
<polyline points="447.5,760.9 447.5,753.73 446.3,749.8 446.3,748.3" class="st"/>
<line x1="449.2" y1="760.9" x2="449.2" y2="748.3" class="st"/>
<polyline points="451,760.9 451,752.65 452.3,749.8 452.3,748.3" class="st"/>
<line x1="455.3" y1="760.9" x2="455.3" y2="748.3" class="st"/>
<polyline points="457.5,760.9 457.5,751.93 458.2,749.8 458.2,748.3" class="st"/>
<polyline points="459.5,760.9 459.5,752.07 461.3,749.8 461.3,748.3" class="st"/>
<polyline points="258.5,760.9 258.5,752.5 262,751.5 270,750" stroke="#222" stroke-width="1.1" fill="none"/>
<polyline points="276,760.9 276,752.5 280,751.5 290,750" stroke="#222" stroke-width="1.3" fill="none"/>
<polyline points="327.4,760.9 327.4,752 331,749.5" stroke="#222" stroke-width="1.2" fill="none"/>
<polyline points="449.2,760.9 449.2,752 452,749.5" stroke="#222" stroke-width="1.1" fill="none"/>
<polyline points="455.3,760.9 455.3,752 458,749.5" stroke="#333" stroke-width="1.0" fill="none"/>
<line x1="77.6" y1="289.3" x2="462.8" y2="289.3" class="tr"/>
<rect x="132.9" y="287.1" width="3.6" height="4.4" class="ex"/>
<rect x="171.4" y="287.1" width="3.6" height="4.4" class="ex"/>
<rect x="176" y="287.1" width="3.6" height="4.4" class="ex"/>
<rect x="207.5" y="287.1" width="13.5" height="4.4" class="ex"/>
<rect x="340.8" y="287.1" width="7.5" height="4.4" class="ex"/>
<rect x="401.4" y="287.1" width="4.6" height="4.4" class="ex"/>
<rect x="419.7" y="287.1" width="3.6" height="4.4" class="ex"/>
<rect x="457" y="287.1" width="5.8" height="4.4" class="ex"/>
<rect x="77.6" y="287.2" width="1.4" height="4.2" rx="0.5" class="br"/>
<line x1="77.6" y1="329" x2="462.8" y2="329" class="tr"/>
<rect x="77.3" y="326.9" width="1.4" height="4.2" rx="0.5" class="br"/>
<rect x="99.8" y="326.9" width="1.4" height="4.2" rx="0.5" class="br"/>
<rect x="140.2" y="326.9" width="1.4" height="4.2" rx="0.5" class="br"/>
<rect x="155.4" y="326.9" width="1.4" height="4.2" rx="0.5" class="br"/>
<rect x="158.9" y="326.9" width="1.4" height="4.2" rx="0.5" class="br"/>
<rect x="249" y="326.9" width="1.4" height="4.2" rx="0.5" class="br"/>
<rect x="253.3" y="326.9" width="1.4" height="4.2" rx="0.5" class="br"/>
<rect x="278.7" y="326.9" width="1.4" height="4.2" rx="0.5" class="br"/>
<rect x="290.3" y="326.9" width="1.4" height="4.2" rx="0.5" class="br"/>
<rect x="324.9" y="326.9" width="1.4" height="4.2" rx="0.5" class="br"/>
<rect x="376.3" y="326.9" width="1.4" height="4.2" rx="0.5" class="br"/>
<rect x="414.5" y="326.9" width="1.4" height="4.2" rx="0.5" class="br"/>
<rect x="420.8" y="326.9" width="1.4" height="4.2" rx="0.5" class="br"/>
<rect x="460.6" y="326.9" width="1.4" height="4.2" rx="0.5" class="br"/>
<line x1="77.6" y1="367.5" x2="462.8" y2="367.5" class="tr"/>
<rect x="78.1" y="365.4" width="1.4" height="4.2" rx="0.5" class="br"/>
<rect x="96.3" y="365.4" width="1.4" height="4.2" rx="0.5" class="br"/>
<rect x="103.3" y="365.4" width="1.4" height="4.2" rx="0.5" class="br"/>
<rect x="105" y="365.4" width="1.4" height="4.2" rx="0.5" class="br"/>
<rect x="115.6" y="365.4" width="1.4" height="4.2" rx="0.5" class="br"/>
<rect x="141" y="365.4" width="1.4" height="4.2" rx="0.5" class="br"/>
<rect x="155.2" y="365.4" width="1.4" height="4.2" rx="0.5" class="br"/>
<rect x="177.1" y="365.4" width="1.4" height="4.2" rx="0.5" class="br"/>
<rect x="190.1" y="365.4" width="1.4" height="4.2" rx="0.5" class="br"/>
<rect x="234.9" y="365.4" width="1.4" height="4.2" rx="0.5" class="br"/>
<rect x="249.3" y="365.4" width="1.4" height="4.2" rx="0.5" class="br"/>
<rect x="256.3" y="365.4" width="1.4" height="4.2" rx="0.5" class="br"/>
<rect x="262.8" y="365.4" width="1.4" height="4.2" rx="0.5" class="br"/>
<rect x="313.9" y="365.4" width="1.4" height="4.2" rx="0.5" class="br"/>
<rect x="361.1" y="365.4" width="1.4" height="4.2" rx="0.5" class="br"/>
<rect x="368.9" y="365.4" width="1.4" height="4.2" rx="0.5" class="br"/>
<rect x="431.3" y="365.4" width="1.4" height="4.2" rx="0.5" class="br"/>
<rect x="447.1" y="365.4" width="1.4" height="4.2" rx="0.5" class="br"/>
<rect x="455.7" y="365.4" width="1.4" height="4.2" rx="0.5" class="br"/>
<rect x="460.6" y="365.4" width="1.4" height="4.2" rx="0.5" class="br"/>
<line x1="77.6" y1="406.9" x2="462.8" y2="406.9" class="tr"/>
<rect x="77.4" y="404.7" width="4.9" height="4.4" class="ex"/>
<rect x="98.8" y="404.7" width="3.6" height="4.4" class="ex"/>
<rect x="114.4" y="404.7" width="3.6" height="4.4" class="ex"/>
<rect x="120.4" y="404.7" width="3.6" height="4.4" class="ex"/>
<rect x="153.7" y="404.7" width="3.6" height="4.4" class="ex"/>
<rect x="161.7" y="404.7" width="3.6" height="4.4" class="ex"/>
<rect x="220.4" y="404.7" width="3.6" height="4.4" class="ex"/>
<rect x="229.4" y="404.7" width="3.6" height="4.4" class="ex"/>
<rect x="250.4" y="404.7" width="3.6" height="4.4" class="ex"/>
<rect x="355.4" y="404.7" width="3.6" height="4.4" class="ex"/>
<rect x="359.4" y="404.7" width="3.6" height="4.4" class="ex"/>
<rect x="383.9" y="404.7" width="3.6" height="4.4" class="ex"/>
<rect x="391.7" y="404.7" width="3.6" height="4.4" class="ex"/>
<rect x="406.9" y="404.7" width="3.6" height="4.4" class="ex"/>
<rect x="433.6" y="404.7" width="3.6" height="4.4" class="ex"/>
<rect x="445" y="404.7" width="4" height="4.4" class="ex"/>
<rect x="455.6" y="404.7" width="7.2" height="4.4" class="ex"/>
<rect x="109.3" y="404.8" width="1.4" height="4.2" rx="0.5" class="br"/>
<rect x="213" y="404.8" width="1.4" height="4.2" rx="0.5" class="br"/>
<rect x="214.7" y="404.8" width="1.4" height="4.2" rx="0.5" class="br"/>
<rect x="235.4" y="404.8" width="1.4" height="4.2" rx="0.5" class="br"/>
<rect x="298.3" y="404.8" width="1.4" height="4.2" rx="0.5" class="br"/>
<rect x="366" y="404.8" width="1.4" height="4.2" rx="0.5" class="br"/>
<rect x="397.8" y="404.8" width="1.4" height="4.2" rx="0.5" class="br"/>
<rect x="427.5" y="404.8" width="1.4" height="4.2" rx="0.5" class="br"/>
<line x1="77.6" y1="445.4" x2="462.8" y2="445.4" class="tr"/>
<rect x="77.4" y="443.2" width="70.7" height="4.4" class="ex"/>
<rect x="151.5" y="443.2" width="3.6" height="4.4" class="ex"/>
<rect x="158.7" y="443.2" width="3.6" height="4.4" class="ex"/>
<rect x="169.3" y="443.2" width="3.6" height="4.4" class="ex"/>
<rect x="175.95" y="443.2" width="3.6" height="4.4" class="ex"/>
<rect x="205.5" y="443.2" width="6.1" height="4.4" class="ex"/>
<rect x="246.8" y="443.2" width="3.6" height="4.4" class="ex"/>
<rect x="261.7" y="443.2" width="3.6" height="4.4" class="ex"/>
<rect x="269.8" y="443.2" width="3.6" height="4.4" class="ex"/>
<rect x="296.4" y="443.2" width="3.6" height="4.4" class="ex"/>
<rect x="340.7" y="443.2" width="3.6" height="4.4" class="ex"/>
<rect x="390.3" y="443.2" width="3.6" height="4.4" class="ex"/>
<rect x="421.5" y="443.2" width="3.6" height="4.4" class="ex"/>
<rect x="458.7" y="443.2" width="3.6" height="4.4" class="ex"/>
<rect x="77.6" y="480.2" width="22" height="3.6" fill="#76a0b4" stroke="#5a7f90" stroke-width="0.5"/>
<line x1="77.6" y1="482" x2="462.8" y2="482" class="tr"/>
<rect x="148.3" y="479.9" width="1.4" height="4.2" rx="0.5" class="br"/>
<rect x="170.3" y="479.9" width="1.4" height="4.2" rx="0.5" class="br"/>
<rect x="195.6" y="479.9" width="1.4" height="4.2" rx="0.5" class="br"/>
<rect x="204.5" y="479.9" width="1.4" height="4.2" rx="0.5" class="br"/>
<rect x="272.9" y="479.9" width="1.4" height="4.2" rx="0.5" class="br"/>
<rect x="284.5" y="479.9" width="1.4" height="4.2" rx="0.5" class="br"/>
<rect x="298.3" y="479.9" width="1.4" height="4.2" rx="0.5" class="br"/>
<rect x="311.9" y="479.9" width="1.4" height="4.2" rx="0.5" class="br"/>
<rect x="349.6" y="479.9" width="1.4" height="4.2" rx="0.5" class="br"/>
<rect x="362" y="479.9" width="1.4" height="4.2" rx="0.5" class="br"/>
<rect x="377" y="479.9" width="1.4" height="4.2" rx="0.5" class="br"/>
<rect x="460.6" y="479.9" width="1.4" height="4.2" rx="0.5" class="br"/>
<line x1="77.6" y1="520" x2="462.8" y2="520" class="tr"/>
<rect x="77.4" y="517.8" width="11.5" height="4.4" class="ex"/>
<rect x="127.3" y="517.8" width="14.4" height="4.4" class="ex"/>
<rect x="161.6" y="517.8" width="10.1" height="4.4" class="ex"/>
<rect x="202.1" y="517.8" width="11" height="4.4" class="ex"/>
<rect x="219.7" y="517.8" width="10.1" height="4.4" class="ex"/>
<rect x="236.1" y="517.8" width="17.9" height="4.4" class="ex"/>
<rect x="264.1" y="517.8" width="11.9" height="4.4" class="ex"/>
<rect x="283.7" y="517.8" width="7.3" height="4.4" class="ex"/>
<rect x="311.1" y="517.8" width="29.1" height="4.4" class="ex"/>
<rect x="371.3" y="517.8" width="20.8" height="4.4" class="ex"/>
<rect x="431" y="517.8" width="31.8" height="4.4" class="ex"/>
<line x1="77.6" y1="557.4" x2="462.8" y2="557.4" class="tr"/>
<rect x="77.2" y="555.2" width="3.6" height="4.4" class="ex"/>
<rect x="156.9" y="555.3" width="1.4" height="4.2" rx="0.5" class="br"/>
<rect x="177.7" y="555.3" width="1.4" height="4.2" rx="0.5" class="br"/>
<rect x="180.5" y="555.3" width="1.4" height="4.2" rx="0.5" class="br"/>
<rect x="236" y="555.3" width="1.4" height="4.2" rx="0.5" class="br"/>
<rect x="244.7" y="555.3" width="1.4" height="4.2" rx="0.5" class="br"/>
<rect x="250.4" y="555.3" width="1.4" height="4.2" rx="0.5" class="br"/>
<rect x="256.2" y="555.3" width="1.4" height="4.2" rx="0.5" class="br"/>
<rect x="279.3" y="555.3" width="1.4" height="4.2" rx="0.5" class="br"/>
<rect x="319.7" y="555.3" width="1.4" height="4.2" rx="0.5" class="br"/>
<rect x="331.2" y="555.3" width="1.4" height="4.2" rx="0.5" class="br"/>
<rect x="332.9" y="555.3" width="1.4" height="4.2" rx="0.5" class="br"/>
<rect x="351.6" y="555.3" width="1.4" height="4.2" rx="0.5" class="br"/>
<rect x="366" y="555.3" width="1.4" height="4.2" rx="0.5" class="br"/>
<rect x="373.5" y="555.3" width="1.4" height="4.2" rx="0.5" class="br"/>
<rect x="389.4" y="555.3" width="1.4" height="4.2" rx="0.5" class="br"/>
<rect x="396.6" y="555.3" width="1.4" height="4.2" rx="0.5" class="br"/>
<rect x="460.1" y="555.3" width="1.4" height="4.2" rx="0.5" class="br"/>
<line x1="77.6" y1="600.4" x2="462.8" y2="600.4" class="tr"/>
<rect x="78" y="598.2" width="98.9" height="4.4" class="ex"/>
<rect x="442.6" y="598.2" width="20.2" height="4.4" class="ex"/>
<line x1="77.6" y1="638.4" x2="462.8" y2="638.4" class="tr"/>
<rect x="78" y="636.2" width="24.8" height="4.4" class="ex"/>
<rect x="453.3" y="636.2" width="9.5" height="4.4" class="ex"/>
<line x1="77.6" y1="680.8" x2="462.8" y2="680.8" class="tr"/>
<rect x="77.4" y="678.6" width="23.6" height="4.4" class="ex"/>
<rect x="168.8" y="678.6" width="25.4" height="4.4" class="ex"/>
<rect x="216" y="678.6" width="4.3" height="4.4" class="ex"/>
<rect x="438.3" y="678.6" width="23" height="4.4" class="ex"/>
<line x1="77.6" y1="721.5" x2="462.8" y2="721.5" class="tr"/>
<rect x="77.4" y="719.3" width="6.6" height="4.4" class="ex"/>
<rect x="135" y="719.3" width="5.9" height="4.4" class="ex"/>
<rect x="156.4" y="719.3" width="3.6" height="4.4" class="ex"/>
<rect x="191.8" y="719.3" width="3.6" height="4.4" class="ex"/>
<rect x="226" y="719.3" width="7.3" height="4.4" class="ex"/>
<rect x="252.2" y="719.3" width="3.6" height="4.4" class="ex"/>
<rect x="274.2" y="719.3" width="3.6" height="4.4" class="ex"/>
<rect x="294.95" y="719.3" width="3.6" height="4.4" class="ex"/>
<rect x="337.9" y="719.3" width="13.8" height="4.4" class="ex"/>
<rect x="454.1" y="719.3" width="8.7" height="4.4" class="ex"/>
<line x1="77.6" y1="760.9" x2="462.8" y2="760.9" class="tr"/>
<rect x="77.4" y="758.7" width="5.8" height="4.4" class="ex"/>
<rect x="127.9" y="758.7" width="5.2" height="4.4" class="ex"/>
<rect x="230.4" y="758.7" width="4.9" height="4.4" class="ex"/>
<rect x="319.8" y="758.7" width="8.7" height="4.4" class="ex"/>
<rect x="457" y="758.7" width="5.8" height="4.4" class="ex"/>
<rect x="121.2" y="274.4" width="39.3" height="3.5" fill="#5aa99b"/>
<circle cx="122.2" cy="275" r="1.0" fill="#f6f6f6" stroke="#555" stroke-width="0.45"/>
<circle cx="123.65" cy="277.3" r="1.0" fill="#f6f6f6" stroke="#555" stroke-width="0.45"/>
<circle cx="125.1" cy="275" r="1.0" fill="#f6f6f6" stroke="#555" stroke-width="0.45"/>
<circle cx="126.55" cy="277.3" r="1.0" fill="#f6f6f6" stroke="#555" stroke-width="0.45"/>
<circle cx="128" cy="275" r="1.0" fill="#f6f6f6" stroke="#555" stroke-width="0.45"/>
<circle cx="129.45" cy="277.3" r="1.0" fill="#f6f6f6" stroke="#555" stroke-width="0.45"/>
<circle cx="130.9" cy="275" r="1.0" fill="#f6f6f6" stroke="#555" stroke-width="0.45"/>
<circle cx="132.35" cy="277.3" r="1.0" fill="#f6f6f6" stroke="#555" stroke-width="0.45"/>
<circle cx="133.8" cy="275" r="1.0" fill="#f6f6f6" stroke="#555" stroke-width="0.45"/>
<circle cx="135.25" cy="277.3" r="1.0" fill="#f6f6f6" stroke="#555" stroke-width="0.45"/>
<circle cx="136.7" cy="275" r="1.0" fill="#f6f6f6" stroke="#555" stroke-width="0.45"/>
<circle cx="138.15" cy="277.3" r="1.0" fill="#f6f6f6" stroke="#555" stroke-width="0.45"/>
<circle cx="139.6" cy="275" r="1.0" fill="#f6f6f6" stroke="#555" stroke-width="0.45"/>
<circle cx="141.05" cy="277.3" r="1.0" fill="#f6f6f6" stroke="#555" stroke-width="0.45"/>
<circle cx="142.5" cy="275" r="1.0" fill="#f6f6f6" stroke="#555" stroke-width="0.45"/>
<circle cx="143.95" cy="277.3" r="1.0" fill="#f6f6f6" stroke="#555" stroke-width="0.45"/>
<circle cx="145.4" cy="275" r="1.0" fill="#f6f6f6" stroke="#555" stroke-width="0.45"/>
<circle cx="146.85" cy="277.3" r="1.0" fill="#f6f6f6" stroke="#555" stroke-width="0.45"/>
<circle cx="148.3" cy="275" r="1.0" fill="#f6f6f6" stroke="#555" stroke-width="0.45"/>
<circle cx="149.75" cy="277.3" r="1.0" fill="#f6f6f6" stroke="#555" stroke-width="0.45"/>
<circle cx="151.2" cy="275" r="1.0" fill="#f6f6f6" stroke="#555" stroke-width="0.45"/>
<circle cx="152.65" cy="277.3" r="1.0" fill="#f6f6f6" stroke="#555" stroke-width="0.45"/>
<circle cx="154.1" cy="275" r="1.0" fill="#f6f6f6" stroke="#555" stroke-width="0.45"/>
<circle cx="155.55" cy="277.3" r="1.0" fill="#f6f6f6" stroke="#555" stroke-width="0.45"/>
<circle cx="157" cy="275" r="1.0" fill="#f6f6f6" stroke="#555" stroke-width="0.45"/>
<circle cx="158.45" cy="277.3" r="1.0" fill="#f6f6f6" stroke="#555" stroke-width="0.45"/>
<circle cx="159.9" cy="275" r="1.0" fill="#f6f6f6" stroke="#555" stroke-width="0.45"/>
<rect x="160" y="273.3" width="303" height="4.0" fill="#5aa99b" stroke="#2f4f4a" stroke-width="0.45"/>
<rect x="160" y="274.9" width="303" height="0.8" fill="#8cc7ba"/>
<circle cx="463.6" cy="275.8" r="1.9" fill="#d4d4d4" class="hd"/>
<circle cx="78.8" cy="316" r="1.6" fill="#d4d4d4" class="hd"/>
<circle cx="249.4" cy="316" r="1.6" fill="#bdb87c" class="hd"/>
<circle cx="276.9" cy="316" r="1.6" fill="#d4d4d4" class="hd"/>
<circle cx="279.5" cy="316" r="1.6" fill="#d4d4d4" class="hd"/>
<circle cx="282.1" cy="316" r="1.6" fill="#d4d4d4" class="hd"/>
<circle cx="284.4" cy="316" r="1.6" fill="#d4d4d4" class="hd"/>
<circle cx="287.1" cy="316" r="1.6" fill="#d4d4d4" class="hd"/>
<circle cx="289.6" cy="316" r="1.6" fill="#d4d4d4" class="hd"/>
<circle cx="292.5" cy="316" r="1.6" fill="#d4d4d4" class="hd"/>
<circle cx="298.3" cy="316" r="1.6" fill="#d4d4d4" class="hd"/>
<circle cx="304.6" cy="316" r="1.6" fill="#d4d4d4" class="hd"/>
<circle cx="307.2" cy="316" r="1.6" fill="#d4d4d4" class="hd"/>
<circle cx="309.8" cy="316" r="1.6" fill="#d4d4d4" class="hd"/>
<circle cx="312.5" cy="316" r="1.6" fill="#d4d4d4" class="hd"/>
<circle cx="315" cy="316" r="1.6" fill="#d4d4d4" class="hd"/>
<circle cx="317.3" cy="316" r="1.6" fill="#d4d4d4" class="hd"/>
<circle cx="323.1" cy="316" r="1.6" fill="#d4d4d4" class="hd"/>
<circle cx="329.6" cy="316" r="1.6" fill="#d4d4d4" class="hd"/>
<circle cx="332.49" cy="316" r="1.6" fill="#d4d4d4" class="hd"/>
<circle cx="335.38" cy="316" r="1.6" fill="#d4d4d4" class="hd"/>
<circle cx="338.27" cy="316" r="1.6" fill="#d4d4d4" class="hd"/>
<circle cx="341.16" cy="316" r="1.6" fill="#d4d4d4" class="hd"/>
<circle cx="344.05" cy="316" r="1.6" fill="#d4d4d4" class="hd"/>
<circle cx="346.94" cy="316" r="1.6" fill="#d4d4d4" class="hd"/>
<circle cx="349.83" cy="316" r="1.6" fill="#b9dbd2" class="hd"/>
<circle cx="352.72" cy="316" r="1.6" fill="#b9dbd2" class="hd"/>
<circle cx="355.61" cy="316" r="1.6" fill="#5eaea5" class="hd"/>
<circle cx="358.5" cy="316" r="1.6" fill="#5eaea5" class="hd"/>
<circle cx="361.39" cy="316" r="1.6" fill="#5eaea5" class="hd"/>
<circle cx="364.28" cy="316" r="1.6" fill="#5eaea5" class="hd"/>
<circle cx="367.17" cy="316" r="1.6" fill="#5eaea5" class="hd"/>
<circle cx="370.06" cy="316" r="1.6" fill="#5eaea5" class="hd"/>
<circle cx="372.95" cy="316" r="1.6" fill="#d4d4d4" class="hd"/>
<circle cx="375.84" cy="316" r="1.6" fill="#d4d4d4" class="hd"/>
<circle cx="378.73" cy="316" r="1.6" fill="#d4d4d4" class="hd"/>
<circle cx="403.6" cy="316" r="1.6" fill="#d4d4d4" class="hd"/>
<circle cx="409.4" cy="316" r="1.6" fill="#d4d4d4" class="hd"/>
<circle cx="415.8" cy="316" r="1.6" fill="#d4d4d4" class="hd"/>
<circle cx="419.5" cy="316" r="1.6" fill="#d4d4d4" class="hd"/>
<circle cx="425.3" cy="316" r="1.6" fill="#d4d4d4" class="hd"/>
<circle cx="84.4" cy="355.1" r="1.6" fill="#d4d4d4" class="hd"/>
<circle cx="445.2" cy="355.1" r="1.6" fill="#d4d4d4" class="hd"/>
<circle cx="450.2" cy="355.1" r="1.6" fill="#d4d4d4" class="hd"/>
<circle cx="454.6" cy="355.1" r="1.6" fill="#bdb87c" class="hd"/>
<circle cx="457.5" cy="355.1" r="1.6" fill="#bdb87c" class="hd"/>
<circle cx="462.4" cy="355.1" r="1.6" fill="#d4d4d4" class="hd"/>
<circle cx="96.8" cy="395.1" r="1.6" fill="#d4d4d4" class="hd"/>
<circle cx="114.9" cy="395.1" r="1.6" fill="#bdb87c" class="hd"/>
<circle cx="230.4" cy="395.1" r="1.6" fill="#b9dbd2" class="hd"/>
<circle cx="237" cy="395.1" r="1.6" fill="#d4d4d4" class="hd"/>
<circle cx="301" cy="395.1" r="1.6" fill="#d4d4d4" class="hd"/>
<circle cx="359.8" cy="395.1" r="1.6" fill="#d4d4d4" class="hd"/>
<circle cx="394.4" cy="395.1" r="1.6" fill="#d4d4d4" class="hd"/>
<circle cx="402.2" cy="395.1" r="1.6" fill="#d4d4d4" class="hd"/>
<circle cx="408" cy="395.1" r="1.6" fill="#d4d4d4" class="hd"/>
<circle cx="453.3" cy="395.1" r="1.6" fill="#d4d4d4" class="hd"/>
<circle cx="140.9" cy="433" r="1.6" fill="#5eaea5" class="hd"/>
<circle cx="145.8" cy="433" r="1.6" fill="#5eaea5" class="hd"/>
<circle cx="150.4" cy="433" r="1.6" fill="#5eaea5" class="hd"/>
<circle cx="167.4" cy="433" r="1.6" fill="#e0bd5a" class="hd"/>
<circle cx="172.6" cy="433" r="1.6" fill="#e0bd5a" class="hd"/>
<circle cx="207.9" cy="433" r="1.6" fill="#d4d4d4" class="hd"/>
<circle cx="457" cy="433" r="1.6" fill="#d4d4d4" class="hd"/>
<rect x="74.6" y="467.7" width="266" height="3.3" fill="#b4d3cd"/>
<circle cx="75.8" cy="468.3" r="1.2" fill="#f2f2f2" stroke="#555" stroke-width="0.45"/>
<circle cx="77.3" cy="470.4" r="1.2" fill="#f2f2f2" stroke="#555" stroke-width="0.45"/>
<circle cx="78.8" cy="468.3" r="1.2" fill="#f2f2f2" stroke="#555" stroke-width="0.45"/>
<circle cx="80.3" cy="470.4" r="1.2" fill="#f2f2f2" stroke="#555" stroke-width="0.45"/>
<circle cx="81.8" cy="468.3" r="1.2" fill="#f2f2f2" stroke="#555" stroke-width="0.45"/>
<circle cx="83.3" cy="470.4" r="1.2" fill="#f2f2f2" stroke="#555" stroke-width="0.45"/>
<circle cx="84.8" cy="468.3" r="1.2" fill="#f2f2f2" stroke="#555" stroke-width="0.45"/>
<circle cx="86.3" cy="470.4" r="1.2" fill="#f2f2f2" stroke="#555" stroke-width="0.45"/>
<circle cx="87.8" cy="468.3" r="1.2" fill="#f2f2f2" stroke="#555" stroke-width="0.45"/>
<circle cx="89.3" cy="470.4" r="1.2" fill="#f2f2f2" stroke="#555" stroke-width="0.45"/>
<circle cx="90.8" cy="468.3" r="1.2" fill="#f2f2f2" stroke="#555" stroke-width="0.45"/>
<circle cx="92.3" cy="470.4" r="1.2" fill="#f2f2f2" stroke="#555" stroke-width="0.45"/>
<circle cx="93.8" cy="468.3" r="1.2" fill="#f2f2f2" stroke="#555" stroke-width="0.45"/>
<circle cx="95.3" cy="470.4" r="1.2" fill="#f2f2f2" stroke="#555" stroke-width="0.45"/>
<circle cx="96.8" cy="468.3" r="1.2" fill="#f2f2f2" stroke="#555" stroke-width="0.45"/>
<circle cx="98.3" cy="470.4" r="1.2" fill="#f2f2f2" stroke="#555" stroke-width="0.45"/>
<circle cx="99.8" cy="468.3" r="1.2" fill="#f2f2f2" stroke="#555" stroke-width="0.45"/>
<circle cx="101.3" cy="470.4" r="1.2" fill="#f2f2f2" stroke="#555" stroke-width="0.45"/>
<circle cx="102.8" cy="468.3" r="1.2" fill="#f2f2f2" stroke="#555" stroke-width="0.45"/>
<circle cx="104.3" cy="470.4" r="1.2" fill="#f2f2f2" stroke="#555" stroke-width="0.45"/>
<circle cx="105.8" cy="468.3" r="1.2" fill="#f2f2f2" stroke="#555" stroke-width="0.45"/>
<circle cx="107.3" cy="470.4" r="1.2" fill="#f2f2f2" stroke="#555" stroke-width="0.45"/>
<circle cx="108.8" cy="468.3" r="1.2" fill="#f2f2f2" stroke="#555" stroke-width="0.45"/>
<circle cx="110.3" cy="470.4" r="1.2" fill="#f2f2f2" stroke="#555" stroke-width="0.45"/>
<circle cx="111.8" cy="468.3" r="1.2" fill="#f2f2f2" stroke="#555" stroke-width="0.45"/>
<circle cx="113.3" cy="470.4" r="1.2" fill="#f2f2f2" stroke="#555" stroke-width="0.45"/>
<circle cx="114.8" cy="468.3" r="1.2" fill="#f2f2f2" stroke="#555" stroke-width="0.45"/>
<circle cx="116.3" cy="470.4" r="1.2" fill="#f2f2f2" stroke="#555" stroke-width="0.45"/>
<circle cx="117.8" cy="468.3" r="1.2" fill="#f2f2f2" stroke="#555" stroke-width="0.45"/>
<circle cx="119.3" cy="470.4" r="1.2" fill="#f2f2f2" stroke="#555" stroke-width="0.45"/>
<circle cx="120.8" cy="468.3" r="1.2" fill="#f2f2f2" stroke="#555" stroke-width="0.45"/>
<circle cx="122.3" cy="470.4" r="1.2" fill="#f2f2f2" stroke="#555" stroke-width="0.45"/>
<circle cx="123.8" cy="468.3" r="1.2" fill="#f2f2f2" stroke="#555" stroke-width="0.45"/>
<circle cx="125.3" cy="470.4" r="1.2" fill="#f2f2f2" stroke="#555" stroke-width="0.45"/>
<circle cx="126.8" cy="468.3" r="1.2" fill="#f2f2f2" stroke="#555" stroke-width="0.45"/>
<circle cx="128.3" cy="470.4" r="1.2" fill="#f2f2f2" stroke="#555" stroke-width="0.45"/>
<circle cx="129.8" cy="468.3" r="1.2" fill="#f2f2f2" stroke="#555" stroke-width="0.45"/>
<circle cx="131.3" cy="470.4" r="1.2" fill="#f2f2f2" stroke="#555" stroke-width="0.45"/>
<circle cx="132.8" cy="468.3" r="1.2" fill="#f2f2f2" stroke="#555" stroke-width="0.45"/>
<circle cx="134.3" cy="470.4" r="1.2" fill="#f2f2f2" stroke="#555" stroke-width="0.45"/>
<circle cx="135.8" cy="468.3" r="1.2" fill="#f2f2f2" stroke="#555" stroke-width="0.45"/>
<circle cx="137.3" cy="470.4" r="1.2" fill="#f2f2f2" stroke="#555" stroke-width="0.45"/>
<circle cx="138.8" cy="468.3" r="1.2" fill="#f2f2f2" stroke="#555" stroke-width="0.45"/>
<circle cx="140.3" cy="470.4" r="1.2" fill="#f2f2f2" stroke="#555" stroke-width="0.45"/>
<circle cx="141.8" cy="468.3" r="1.2" fill="#f2f2f2" stroke="#555" stroke-width="0.45"/>
<circle cx="143.3" cy="470.4" r="1.2" fill="#f2f2f2" stroke="#555" stroke-width="0.45"/>
<circle cx="144.8" cy="468.3" r="1.2" fill="#f2f2f2" stroke="#555" stroke-width="0.45"/>
<circle cx="146.3" cy="470.4" r="1.2" fill="#f2f2f2" stroke="#555" stroke-width="0.45"/>
<circle cx="147.8" cy="468.3" r="1.2" fill="#f2f2f2" stroke="#555" stroke-width="0.45"/>
<circle cx="149.3" cy="470.4" r="1.2" fill="#f2f2f2" stroke="#555" stroke-width="0.45"/>
<circle cx="150.8" cy="468.3" r="1.2" fill="#f2f2f2" stroke="#555" stroke-width="0.45"/>
<circle cx="152.3" cy="470.4" r="1.2" fill="#f2f2f2" stroke="#555" stroke-width="0.45"/>
<circle cx="153.8" cy="468.3" r="1.2" fill="#f2f2f2" stroke="#555" stroke-width="0.45"/>
<circle cx="155.3" cy="470.4" r="1.2" fill="#f2f2f2" stroke="#555" stroke-width="0.45"/>
<circle cx="156.8" cy="468.3" r="1.2" fill="#f2f2f2" stroke="#555" stroke-width="0.45"/>
<circle cx="158.3" cy="470.4" r="1.2" fill="#f2f2f2" stroke="#555" stroke-width="0.45"/>
<circle cx="159.8" cy="468.3" r="1.2" fill="#f2f2f2" stroke="#555" stroke-width="0.45"/>
<circle cx="161.3" cy="470.4" r="1.2" fill="#f2f2f2" stroke="#555" stroke-width="0.45"/>
<circle cx="162.8" cy="468.3" r="1.2" fill="#f2f2f2" stroke="#555" stroke-width="0.45"/>
<circle cx="164.3" cy="470.4" r="1.2" fill="#f2f2f2" stroke="#555" stroke-width="0.45"/>
<circle cx="165.8" cy="468.3" r="1.2" fill="#f2f2f2" stroke="#555" stroke-width="0.45"/>
<circle cx="167.3" cy="470.4" r="1.2" fill="#f2f2f2" stroke="#555" stroke-width="0.45"/>
<circle cx="168.8" cy="468.3" r="1.2" fill="#f2f2f2" stroke="#555" stroke-width="0.45"/>
<circle cx="170.3" cy="470.4" r="1.2" fill="#f2f2f2" stroke="#555" stroke-width="0.45"/>
<circle cx="171.8" cy="468.3" r="1.2" fill="#f2f2f2" stroke="#555" stroke-width="0.45"/>
<circle cx="173.3" cy="470.4" r="1.2" fill="#f2f2f2" stroke="#555" stroke-width="0.45"/>
<circle cx="174.8" cy="468.3" r="1.2" fill="#f2f2f2" stroke="#555" stroke-width="0.45"/>
<circle cx="176.3" cy="470.4" r="1.2" fill="#f2f2f2" stroke="#555" stroke-width="0.45"/>
<circle cx="177.8" cy="468.3" r="1.2" fill="#f2f2f2" stroke="#555" stroke-width="0.45"/>
<circle cx="179.3" cy="470.4" r="1.2" fill="#f2f2f2" stroke="#555" stroke-width="0.45"/>
<circle cx="180.8" cy="468.3" r="1.2" fill="#f2f2f2" stroke="#555" stroke-width="0.45"/>
<circle cx="182.3" cy="470.4" r="1.2" fill="#f2f2f2" stroke="#555" stroke-width="0.45"/>
<circle cx="183.8" cy="468.3" r="1.2" fill="#f2f2f2" stroke="#555" stroke-width="0.45"/>
<circle cx="185.3" cy="470.4" r="1.2" fill="#f2f2f2" stroke="#555" stroke-width="0.45"/>
<circle cx="186.8" cy="468.3" r="1.2" fill="#f2f2f2" stroke="#555" stroke-width="0.45"/>
<circle cx="188.3" cy="470.4" r="1.2" fill="#f2f2f2" stroke="#555" stroke-width="0.45"/>
<circle cx="189.8" cy="468.3" r="1.2" fill="#f2f2f2" stroke="#555" stroke-width="0.45"/>
<circle cx="191.3" cy="470.4" r="1.2" fill="#f2f2f2" stroke="#555" stroke-width="0.45"/>
<circle cx="192.8" cy="468.3" r="1.2" fill="#f2f2f2" stroke="#555" stroke-width="0.45"/>
<circle cx="194.3" cy="470.4" r="1.2" fill="#f2f2f2" stroke="#555" stroke-width="0.45"/>
<circle cx="195.8" cy="468.3" r="1.2" fill="#f2f2f2" stroke="#555" stroke-width="0.45"/>
<circle cx="197.3" cy="470.4" r="1.2" fill="#f2f2f2" stroke="#555" stroke-width="0.45"/>
<circle cx="198.8" cy="468.3" r="1.2" fill="#f2f2f2" stroke="#555" stroke-width="0.45"/>
<circle cx="200.3" cy="470.4" r="1.2" fill="#f2f2f2" stroke="#555" stroke-width="0.45"/>
<circle cx="201.8" cy="468.3" r="1.2" fill="#f2f2f2" stroke="#555" stroke-width="0.45"/>
<circle cx="203.3" cy="470.4" r="1.2" fill="#f2f2f2" stroke="#555" stroke-width="0.45"/>
<circle cx="204.8" cy="468.3" r="1.2" fill="#f2f2f2" stroke="#555" stroke-width="0.45"/>
<circle cx="206.3" cy="470.4" r="1.2" fill="#f2f2f2" stroke="#555" stroke-width="0.45"/>
<circle cx="207.8" cy="468.3" r="1.2" fill="#f2f2f2" stroke="#555" stroke-width="0.45"/>
<circle cx="209.3" cy="470.4" r="1.2" fill="#f2f2f2" stroke="#555" stroke-width="0.45"/>
<circle cx="210.8" cy="468.3" r="1.2" fill="#f2f2f2" stroke="#555" stroke-width="0.45"/>
<circle cx="212.3" cy="470.4" r="1.2" fill="#f2f2f2" stroke="#555" stroke-width="0.45"/>
<circle cx="213.8" cy="468.3" r="1.2" fill="#f2f2f2" stroke="#555" stroke-width="0.45"/>
<circle cx="215.3" cy="470.4" r="1.2" fill="#f2f2f2" stroke="#555" stroke-width="0.45"/>
<circle cx="216.8" cy="468.3" r="1.2" fill="#f2f2f2" stroke="#555" stroke-width="0.45"/>
<circle cx="218.3" cy="470.4" r="1.2" fill="#f2f2f2" stroke="#555" stroke-width="0.45"/>
<circle cx="219.8" cy="468.3" r="1.2" fill="#f2f2f2" stroke="#555" stroke-width="0.45"/>
<circle cx="221.3" cy="470.4" r="1.2" fill="#f2f2f2" stroke="#555" stroke-width="0.45"/>
<circle cx="222.8" cy="468.3" r="1.2" fill="#f2f2f2" stroke="#555" stroke-width="0.45"/>
<circle cx="224.3" cy="470.4" r="1.2" fill="#f2f2f2" stroke="#555" stroke-width="0.45"/>
<circle cx="225.8" cy="468.3" r="1.2" fill="#f2f2f2" stroke="#555" stroke-width="0.45"/>
<circle cx="227.3" cy="470.4" r="1.2" fill="#f2f2f2" stroke="#555" stroke-width="0.45"/>
<circle cx="228.8" cy="468.3" r="1.2" fill="#f2f2f2" stroke="#555" stroke-width="0.45"/>
<circle cx="230.3" cy="470.4" r="1.2" fill="#f2f2f2" stroke="#555" stroke-width="0.45"/>
<circle cx="231.8" cy="468.3" r="1.2" fill="#f2f2f2" stroke="#555" stroke-width="0.45"/>
<circle cx="233.3" cy="470.4" r="1.2" fill="#f2f2f2" stroke="#555" stroke-width="0.45"/>
<circle cx="234.8" cy="468.3" r="1.2" fill="#f2f2f2" stroke="#555" stroke-width="0.45"/>
<circle cx="236.3" cy="470.4" r="1.2" fill="#f2f2f2" stroke="#555" stroke-width="0.45"/>
<circle cx="237.8" cy="468.3" r="1.2" fill="#f2f2f2" stroke="#555" stroke-width="0.45"/>
<circle cx="239.3" cy="470.4" r="1.2" fill="#f2f2f2" stroke="#555" stroke-width="0.45"/>
<circle cx="240.8" cy="468.3" r="1.2" fill="#f2f2f2" stroke="#555" stroke-width="0.45"/>
<circle cx="242.3" cy="470.4" r="1.2" fill="#f2f2f2" stroke="#555" stroke-width="0.45"/>
<circle cx="243.8" cy="468.3" r="1.2" fill="#f2f2f2" stroke="#555" stroke-width="0.45"/>
<circle cx="245.3" cy="470.4" r="1.2" fill="#f2f2f2" stroke="#555" stroke-width="0.45"/>
<circle cx="246.8" cy="468.3" r="1.2" fill="#f2f2f2" stroke="#555" stroke-width="0.45"/>
<circle cx="248.3" cy="470.4" r="1.2" fill="#f2f2f2" stroke="#555" stroke-width="0.45"/>
<circle cx="249.8" cy="468.3" r="1.2" fill="#f2f2f2" stroke="#555" stroke-width="0.45"/>
<circle cx="251.3" cy="470.4" r="1.2" fill="#f2f2f2" stroke="#555" stroke-width="0.45"/>
<circle cx="252.8" cy="468.3" r="1.2" fill="#f2f2f2" stroke="#555" stroke-width="0.45"/>
<circle cx="254.3" cy="470.4" r="1.2" fill="#f2f2f2" stroke="#555" stroke-width="0.45"/>
<circle cx="255.8" cy="468.3" r="1.2" fill="#f2f2f2" stroke="#555" stroke-width="0.45"/>
<circle cx="257.3" cy="470.4" r="1.2" fill="#f2f2f2" stroke="#555" stroke-width="0.45"/>
<circle cx="258.8" cy="468.3" r="1.2" fill="#f2f2f2" stroke="#555" stroke-width="0.45"/>
<circle cx="260.3" cy="470.4" r="1.2" fill="#f2f2f2" stroke="#555" stroke-width="0.45"/>
<circle cx="261.8" cy="468.3" r="1.2" fill="#f2f2f2" stroke="#555" stroke-width="0.45"/>
<circle cx="263.3" cy="470.4" r="1.2" fill="#f2f2f2" stroke="#555" stroke-width="0.45"/>
<circle cx="264.8" cy="468.3" r="1.2" fill="#f2f2f2" stroke="#555" stroke-width="0.45"/>
<circle cx="266.3" cy="470.4" r="1.2" fill="#f2f2f2" stroke="#555" stroke-width="0.45"/>
<circle cx="267.8" cy="468.3" r="1.2" fill="#f2f2f2" stroke="#555" stroke-width="0.45"/>
<circle cx="269.3" cy="470.4" r="1.2" fill="#f2f2f2" stroke="#555" stroke-width="0.45"/>
<circle cx="270.8" cy="468.3" r="1.2" fill="#f2f2f2" stroke="#555" stroke-width="0.45"/>
<circle cx="272.3" cy="470.4" r="1.2" fill="#f2f2f2" stroke="#555" stroke-width="0.45"/>
<circle cx="273.8" cy="468.3" r="1.2" fill="#f2f2f2" stroke="#555" stroke-width="0.45"/>
<circle cx="275.3" cy="470.4" r="1.2" fill="#f2f2f2" stroke="#555" stroke-width="0.45"/>
<circle cx="276.8" cy="468.3" r="1.2" fill="#f2f2f2" stroke="#555" stroke-width="0.45"/>
<circle cx="278.3" cy="470.4" r="1.2" fill="#f2f2f2" stroke="#555" stroke-width="0.45"/>
<circle cx="279.8" cy="468.3" r="1.2" fill="#f2f2f2" stroke="#555" stroke-width="0.45"/>
<circle cx="281.3" cy="470.4" r="1.2" fill="#f2f2f2" stroke="#555" stroke-width="0.45"/>
<circle cx="282.8" cy="468.3" r="1.2" fill="#f2f2f2" stroke="#555" stroke-width="0.45"/>
<circle cx="284.3" cy="470.4" r="1.2" fill="#f2f2f2" stroke="#555" stroke-width="0.45"/>
<circle cx="285.8" cy="468.3" r="1.2" fill="#f2f2f2" stroke="#555" stroke-width="0.45"/>
<circle cx="287.3" cy="470.4" r="1.2" fill="#f2f2f2" stroke="#555" stroke-width="0.45"/>
<circle cx="288.8" cy="468.3" r="1.2" fill="#f2f2f2" stroke="#555" stroke-width="0.45"/>
<circle cx="290.3" cy="470.4" r="1.2" fill="#f2f2f2" stroke="#555" stroke-width="0.45"/>
<circle cx="291.8" cy="468.3" r="1.2" fill="#f2f2f2" stroke="#555" stroke-width="0.45"/>
<circle cx="293.3" cy="470.4" r="1.2" fill="#f2f2f2" stroke="#555" stroke-width="0.45"/>
<circle cx="294.8" cy="468.3" r="1.2" fill="#f2f2f2" stroke="#555" stroke-width="0.45"/>
<circle cx="296.3" cy="470.4" r="1.2" fill="#f2f2f2" stroke="#555" stroke-width="0.45"/>
<circle cx="297.8" cy="468.3" r="1.2" fill="#f2f2f2" stroke="#555" stroke-width="0.45"/>
<circle cx="299.3" cy="470.4" r="1.2" fill="#f2f2f2" stroke="#555" stroke-width="0.45"/>
<circle cx="300.8" cy="468.3" r="1.2" fill="#f2f2f2" stroke="#555" stroke-width="0.45"/>
<circle cx="302.3" cy="470.4" r="1.2" fill="#f2f2f2" stroke="#555" stroke-width="0.45"/>
<circle cx="303.8" cy="468.3" r="1.2" fill="#f2f2f2" stroke="#555" stroke-width="0.45"/>
<circle cx="305.3" cy="470.4" r="1.2" fill="#f2f2f2" stroke="#555" stroke-width="0.45"/>
<circle cx="306.8" cy="468.3" r="1.2" fill="#f2f2f2" stroke="#555" stroke-width="0.45"/>
<circle cx="308.3" cy="470.4" r="1.2" fill="#f2f2f2" stroke="#555" stroke-width="0.45"/>
<circle cx="309.8" cy="468.3" r="1.2" fill="#f2f2f2" stroke="#555" stroke-width="0.45"/>
<circle cx="311.3" cy="470.4" r="1.2" fill="#f2f2f2" stroke="#555" stroke-width="0.45"/>
<circle cx="312.8" cy="468.3" r="1.2" fill="#f2f2f2" stroke="#555" stroke-width="0.45"/>
<circle cx="314.3" cy="470.4" r="1.2" fill="#f2f2f2" stroke="#555" stroke-width="0.45"/>
<circle cx="315.8" cy="468.3" r="1.2" fill="#f2f2f2" stroke="#555" stroke-width="0.45"/>
<circle cx="317.3" cy="470.4" r="1.2" fill="#f2f2f2" stroke="#555" stroke-width="0.45"/>
<circle cx="318.8" cy="468.3" r="1.2" fill="#f2f2f2" stroke="#555" stroke-width="0.45"/>
<circle cx="320.3" cy="470.4" r="1.2" fill="#f2f2f2" stroke="#555" stroke-width="0.45"/>
<circle cx="321.8" cy="468.3" r="1.2" fill="#f2f2f2" stroke="#555" stroke-width="0.45"/>
<circle cx="323.3" cy="470.4" r="1.2" fill="#f2f2f2" stroke="#555" stroke-width="0.45"/>
<circle cx="324.8" cy="468.3" r="1.2" fill="#f2f2f2" stroke="#555" stroke-width="0.45"/>
<circle cx="326.3" cy="470.4" r="1.2" fill="#f2f2f2" stroke="#555" stroke-width="0.45"/>
<circle cx="327.8" cy="468.3" r="1.2" fill="#f2f2f2" stroke="#555" stroke-width="0.45"/>
<circle cx="329.3" cy="470.4" r="1.2" fill="#f2f2f2" stroke="#555" stroke-width="0.45"/>
<circle cx="330.8" cy="468.3" r="1.2" fill="#f2f2f2" stroke="#555" stroke-width="0.45"/>
<circle cx="332.3" cy="470.4" r="1.2" fill="#f2f2f2" stroke="#555" stroke-width="0.45"/>
<circle cx="333.8" cy="468.3" r="1.2" fill="#f2f2f2" stroke="#555" stroke-width="0.45"/>
<circle cx="335.3" cy="470.4" r="1.2" fill="#f2f2f2" stroke="#555" stroke-width="0.45"/>
<circle cx="336.8" cy="468.3" r="1.2" fill="#f2f2f2" stroke="#555" stroke-width="0.45"/>
<circle cx="338.3" cy="470.4" r="1.2" fill="#f2f2f2" stroke="#555" stroke-width="0.45"/>
<circle cx="339.8" cy="468.3" r="1.2" fill="#f2f2f2" stroke="#555" stroke-width="0.45"/>
<circle cx="193.5" cy="469.3" r="1.2" fill="#5eaea5" class="hd"/>
<circle cx="196.5" cy="469.3" r="1.2" fill="#5eaea5" class="hd"/>
<circle cx="203.5" cy="469.3" r="1.2" fill="#e0bd5a" class="hd"/>
<circle cx="206.5" cy="469.3" r="1.2" fill="#e0bd5a" class="hd"/>
<circle cx="222" cy="469.3" r="1.2" fill="#5eaea5" class="hd"/>
<circle cx="225" cy="469.3" r="1.2" fill="#5eaea5" class="hd"/>
<circle cx="452.7" cy="470.1" r="1.6" fill="#d4d4d4" class="hd"/>
<circle cx="116.3" cy="507.1" r="1.6" fill="#d4d4d4" class="hd"/>
<rect x="352.4" y="505.8" width="32.1" height="3.4" fill="#5aa99b"/>
<circle cx="353.5" cy="506.4" r="1.1" fill="#e8f0ee" stroke="#555" stroke-width="0.45"/>
<circle cx="355" cy="508.6" r="1.1" fill="#e8f0ee" stroke="#555" stroke-width="0.45"/>
<circle cx="356.5" cy="506.4" r="1.1" fill="#e8f0ee" stroke="#555" stroke-width="0.45"/>
<circle cx="358" cy="508.6" r="1.1" fill="#e8f0ee" stroke="#555" stroke-width="0.45"/>
<circle cx="359.5" cy="506.4" r="1.1" fill="#e8f0ee" stroke="#555" stroke-width="0.45"/>
<circle cx="361" cy="508.6" r="1.1" fill="#e8f0ee" stroke="#555" stroke-width="0.45"/>
<circle cx="362.5" cy="506.4" r="1.1" fill="#e8f0ee" stroke="#555" stroke-width="0.45"/>
<circle cx="364" cy="508.6" r="1.1" fill="#e8f0ee" stroke="#555" stroke-width="0.45"/>
<circle cx="365.5" cy="506.4" r="1.1" fill="#e8f0ee" stroke="#555" stroke-width="0.45"/>
<circle cx="367" cy="508.6" r="1.1" fill="#e8f0ee" stroke="#555" stroke-width="0.45"/>
<circle cx="368.5" cy="506.4" r="1.1" fill="#e8f0ee" stroke="#555" stroke-width="0.45"/>
<circle cx="370" cy="508.6" r="1.1" fill="#e8f0ee" stroke="#555" stroke-width="0.45"/>
<circle cx="371.5" cy="506.4" r="1.1" fill="#e8f0ee" stroke="#555" stroke-width="0.45"/>
<circle cx="373" cy="508.6" r="1.1" fill="#e8f0ee" stroke="#555" stroke-width="0.45"/>
<circle cx="374.5" cy="506.4" r="1.1" fill="#e8f0ee" stroke="#555" stroke-width="0.45"/>
<circle cx="376" cy="508.6" r="1.1" fill="#e8f0ee" stroke="#555" stroke-width="0.45"/>
<circle cx="377.5" cy="506.4" r="1.1" fill="#e8f0ee" stroke="#555" stroke-width="0.45"/>
<circle cx="379" cy="508.6" r="1.1" fill="#e8f0ee" stroke="#555" stroke-width="0.45"/>
<circle cx="380.5" cy="506.4" r="1.1" fill="#e8f0ee" stroke="#555" stroke-width="0.45"/>
<circle cx="382" cy="508.6" r="1.1" fill="#e8f0ee" stroke="#555" stroke-width="0.45"/>
<circle cx="383.5" cy="506.4" r="1.1" fill="#e8f0ee" stroke="#555" stroke-width="0.45"/>
<rect x="384" y="505.0" width="80" height="4.6" fill="#5aa99b" stroke="#2f4f4a" stroke-width="0.45"/>
<rect x="384" y="506.8" width="80" height="0.9" fill="#8cc7ba"/>
<circle cx="390.7" cy="503.6" r="1.5" fill="#5eaea5" class="hd"/>
<circle cx="408" cy="503.6" r="1.5" fill="#5eaea5" class="hd"/>
<circle cx="416.6" cy="503.6" r="1.5" fill="#5eaea5" class="hd"/>
<circle cx="444.6" cy="503.6" r="1.5" fill="#5eaea5" class="hd"/>
<circle cx="459.9" cy="503.6" r="1.5" fill="#5eaea5" class="hd"/>
<circle cx="462.8" cy="503.6" r="1.5" fill="#5eaea5" class="hd"/>
<circle cx="78.3" cy="544.4" r="1.6" fill="#b9dbd2" class="hd"/>
<circle cx="251.1" cy="544.4" r="1.6" fill="#b9dbd2" class="hd"/>
<circle cx="254.9" cy="544.4" r="1.6" fill="#b9dbd2" class="hd"/>
<circle cx="258.6" cy="544.4" r="1.6" fill="#b9dbd2" class="hd"/>
<circle cx="332.8" cy="544.4" r="1.6" fill="#d4d4d4" class="hd"/>
<circle cx="351.7" cy="544.4" r="1.6" fill="#d4d4d4" class="hd"/>
<circle cx="460.8" cy="544.4" r="1.6" fill="#d4d4d4" class="hd"/>
<circle cx="241.3" cy="588" r="1.6" fill="#5eaea5" class="hd"/>
<circle cx="188.4" cy="626" r="1.6" fill="#5eaea5" class="hd"/>
<circle cx="132.2" cy="667.1" r="1.6" fill="#d4d4d4" class="hd"/>
<circle cx="304.8" cy="667.1" r="1.6" fill="#d4d4d4" class="hd"/>
<circle cx="414.6" cy="667.1" r="1.6" fill="#d4d4d4" class="hd"/>
<circle cx="457" cy="667.1" r="1.6" fill="#d4d4d4" class="hd"/>
<circle cx="78.8" cy="708" r="1.6" fill="#d4d4d4" class="hd"/>
<circle cx="226.9" cy="708" r="1.6" fill="#d4d4d4" class="hd"/>
<circle cx="301" cy="708" r="1.6" fill="#d4d4d4" class="hd"/>
<circle cx="310.6" cy="708" r="1.6" fill="#d4d4d4" class="hd"/>
<circle cx="317" cy="708" r="1.6" fill="#e0bd5a" class="hd"/>
<circle cx="328.5" cy="708" r="1.6" fill="#d4d4d4" class="hd"/>
<circle cx="332.2" cy="708" r="1.6" fill="#d4d4d4" class="hd"/>
<circle cx="338.6" cy="708" r="1.6" fill="#5eaea5" class="hd"/>
<circle cx="341.6" cy="708" r="1.6" fill="#d4d4d4" class="hd"/>
<circle cx="347.4" cy="708" r="1.6" fill="#d4d4d4" class="hd"/>
<circle cx="351.2" cy="708" r="1.6" fill="#5eaea5" class="hd"/>
<circle cx="354" cy="708" r="1.6" fill="#5eaea5" class="hd"/>
<rect x="355" y="705.6" width="110" height="3.8" fill="#5aa99b" stroke="#2f4f4a" stroke-width="0.45"/>
<rect x="355" y="707.1" width="110" height="0.8" fill="#8cc7ba"/>
<circle cx="381.2" cy="704" r="1.6" fill="#e9a04a" class="hd"/>
<circle cx="465.2" cy="708" r="1.5" fill="#d4d4d4" class="hd"/>
<circle cx="94.2" cy="746.8" r="1.6" fill="#d4d4d4" class="hd"/>
<circle cx="109.9" cy="746.8" r="1.6" fill="#d4d4d4" class="hd"/>
<circle cx="131.2" cy="746.8" r="1.6" fill="#d4d4d4" class="hd"/>
<circle cx="137.6" cy="746.8" r="1.6" fill="#d4d4d4" class="hd"/>
<circle cx="140.9" cy="746.8" r="1.6" fill="#d4d4d4" class="hd"/>
<circle cx="153.1" cy="746.8" r="1.6" fill="#d4d4d4" class="hd"/>
<circle cx="168.6" cy="746.8" r="1.6" fill="#d4d4d4" class="hd"/>
<circle cx="177.8" cy="746.8" r="1.6" fill="#d4d4d4" class="hd"/>
<circle cx="190.1" cy="746.8" r="1.6" fill="#d4d4d4" class="hd"/>
<circle cx="193.1" cy="746.8" r="1.6" fill="#d4d4d4" class="hd"/>
<circle cx="211.8" cy="746.8" r="1.6" fill="#d4d4d4" class="hd"/>
<circle cx="236.3" cy="746.8" r="1.6" fill="#b9dbd2" class="hd"/>
<circle cx="242.4" cy="746.8" r="1.6" fill="#e0bd5a" class="hd"/>
<circle cx="245.15" cy="746.8" r="1.6" fill="#e0bd5a" class="hd"/>
<circle cx="247.9" cy="746.8" r="1.6" fill="#e0bd5a" class="hd"/>
<circle cx="250.65" cy="746.8" r="1.6" fill="#e0bd5a" class="hd"/>
<circle cx="253.4" cy="746.8" r="1.6" fill="#5eaea5" class="hd"/>
<circle cx="256.15" cy="746.8" r="1.6" fill="#5eaea5" class="hd"/>
<circle cx="258.9" cy="746.8" r="1.6" fill="#5eaea5" class="hd"/>
<circle cx="261.65" cy="746.8" r="1.6" fill="#5eaea5" class="hd"/>
<circle cx="264.4" cy="746.8" r="1.6" fill="#b9dbd2" class="hd"/>
<circle cx="267.15" cy="746.8" r="1.6" fill="#5eaea5" class="hd"/>
<circle cx="269.9" cy="746.8" r="1.6" fill="#a8d4a4" class="hd"/>
<circle cx="272.65" cy="746.8" r="1.6" fill="#a8d4a4" class="hd"/>
<circle cx="275.4" cy="746.8" r="1.6" fill="#5eaea5" class="hd"/>
<circle cx="278.15" cy="746.8" r="1.6" fill="#5eaea5" class="hd"/>
<circle cx="280.9" cy="746.8" r="1.6" fill="#b9dbd2" class="hd"/>
<circle cx="283.65" cy="746.8" r="1.6" fill="#a8d4a4" class="hd"/>
<circle cx="286.4" cy="746.8" r="1.6" fill="#a8d4a4" class="hd"/>
<circle cx="289.15" cy="746.8" r="1.6" fill="#5eaea5" class="hd"/>
<circle cx="291.9" cy="746.8" r="1.6" fill="#5eaea5" class="hd"/>
<circle cx="294.65" cy="746.8" r="1.6" fill="#a8d4a4" class="hd"/>
<circle cx="297.4" cy="746.8" r="1.6" fill="#5eaea5" class="hd"/>
<circle cx="300.15" cy="746.8" r="1.6" fill="#a8d4a4" class="hd"/>
<circle cx="302.9" cy="746.8" r="1.6" fill="#5eaea5" class="hd"/>
<circle cx="305.65" cy="746.8" r="1.6" fill="#e0bd5a" class="hd"/>
<circle cx="308.4" cy="746.8" r="1.6" fill="#e0bd5a" class="hd"/>
<circle cx="313.5" cy="746.8" r="1.6" fill="#bdb87c" class="hd"/>
<circle cx="317" cy="746.8" r="1.6" fill="#bdb87c" class="hd"/>
<circle cx="321.3" cy="746.8" r="1.6" fill="#5eaea5" class="hd"/>
<circle cx="323.4" cy="746.8" r="1.6" fill="#5eaea5" class="hd"/>
<circle cx="329.1" cy="746.8" r="1.6" fill="#5eaea5" class="hd"/>
<circle cx="331.7" cy="746.8" r="1.6" fill="#5eaea5" class="hd"/>
<circle cx="334.7" cy="746.8" r="1.6" fill="#5eaea5" class="hd"/>
<circle cx="344.7" cy="746.8" r="1.6" fill="#d4d4d4" class="hd"/>
<circle cx="347.3" cy="746.8" r="1.6" fill="#d4d4d4" class="hd"/>
<circle cx="362.9" cy="746.8" r="1.6" fill="#b9dbd2" class="hd"/>
<circle cx="387.8" cy="746.8" r="1.6" fill="#d4d4d4" class="hd"/>
<circle cx="406" cy="746.8" r="1.6" fill="#bdb87c" class="hd"/>
<circle cx="412" cy="746.8" r="1.6" fill="#d4d4d4" class="hd"/>
<circle cx="415.5" cy="746.8" r="1.6" fill="#d4d4d4" class="hd"/>
<circle cx="424.6" cy="746.8" r="1.6" fill="#b9dbd2" class="hd"/>
<circle cx="433.6" cy="746.8" r="1.6" fill="#b9dbd2" class="hd"/>
<circle cx="439.7" cy="746.8" r="1.6" fill="#bdb87c" class="hd"/>
<circle cx="443.2" cy="746.8" r="1.6" fill="#e0bd5a" class="hd"/>
<circle cx="446.3" cy="746.8" r="1.6" fill="#e0bd5a" class="hd"/>
<circle cx="449.2" cy="746.8" r="1.6" fill="#a8d4a4" class="hd"/>
<circle cx="452.3" cy="746.8" r="1.6" fill="#b9dbd2" class="hd"/>
<circle cx="455.3" cy="746.8" r="1.6" fill="#a8d4a4" class="hd"/>
<circle cx="458.2" cy="746.8" r="1.6" fill="#5eaea5" class="hd"/>
<circle cx="461.3" cy="746.8" r="1.6" fill="#d4d4d4" class="hd"/>
<circle cx="484.6" cy="276.9" r="2.2" fill="#6aa2a6" stroke="#3f7075" stroke-width="0.8"/>
<circle cx="484.6" cy="285.4" r="2.2" fill="#d8b66a" stroke="#a4843a" stroke-width="0.8"/>
<circle cx="484.6" cy="293.8" r="2.2" fill="#a0a0a6" stroke="#6c6c72" stroke-width="0.8"/>
<circle cx="484.6" cy="314.5" r="2.2" fill="#6aa2a6" stroke="#3f7075" stroke-width="0.8"/>
<circle cx="484.6" cy="322.5" r="2.2" fill="#d8b66a" stroke="#a4843a" stroke-width="0.8"/>
<circle cx="484.6" cy="330.5" r="2.2" fill="#a0a0a6" stroke="#6c6c72" stroke-width="0.8"/>
<circle cx="484.6" cy="352.3" r="2.2" fill="#6aa2a6" stroke="#3f7075" stroke-width="0.8"/>
<circle cx="484.6" cy="360.5" r="2.2" fill="#d8b66a" stroke="#a4843a" stroke-width="0.8"/>
<circle cx="484.6" cy="368.6" r="2.2" fill="#a0a0a6" stroke="#6c6c72" stroke-width="0.8"/>
<circle cx="486.8" cy="391.2" r="2.2" fill="#6aa2a6" stroke="#3f7075" stroke-width="0.8"/>
<circle cx="486.8" cy="399.5" r="2.2" fill="#d8b66a" stroke="#a4843a" stroke-width="0.8"/>
<circle cx="486.8" cy="407.8" r="2.2" fill="#a0a0a6" stroke="#6c6c72" stroke-width="0.8"/>
<circle cx="486.6" cy="430.6" r="2.2" fill="#6aa2a6" stroke="#3f7075" stroke-width="0.8"/>
<circle cx="486.6" cy="438.4" r="2.2" fill="#d8b66a" stroke="#a4843a" stroke-width="0.8"/>
<circle cx="486.6" cy="446.4" r="2.2" fill="#a0a0a6" stroke="#6c6c72" stroke-width="0.8"/>
<circle cx="486.6" cy="466" r="2.2" fill="#6aa2a6" stroke="#3f7075" stroke-width="0.8"/>
<circle cx="486.6" cy="474.2" r="2.2" fill="#d8b66a" stroke="#a4843a" stroke-width="0.8"/>
<circle cx="486.6" cy="482.2" r="2.2" fill="#a0a0a6" stroke="#6c6c72" stroke-width="0.8"/>
<circle cx="486.6" cy="505.2" r="2.2" fill="#6aa2a6" stroke="#3f7075" stroke-width="0.8"/>
<circle cx="486.6" cy="514.8" r="2.2" fill="#a0a0a6" stroke="#6c6c72" stroke-width="0.8"/>
<circle cx="486.6" cy="544.4" r="2.2" fill="#6aa2a6" stroke="#3f7075" stroke-width="0.8"/>
<circle cx="486.6" cy="553.6" r="2.2" fill="#a0a0a6" stroke="#6c6c72" stroke-width="0.8"/>
<circle cx="487.3" cy="586.1" r="2.2" fill="#6aa2a6" stroke="#3f7075" stroke-width="0.8"/>
<circle cx="487.3" cy="625.2" r="2.2" fill="#6aa2a6" stroke="#3f7075" stroke-width="0.8"/>
<circle cx="487.3" cy="670.5" r="2.2" fill="#6aa2a6" stroke="#3f7075" stroke-width="0.8"/>
<circle cx="487.3" cy="677.9" r="2.2" fill="#a0a0a6" stroke="#6c6c72" stroke-width="0.8"/>
<circle cx="487.3" cy="697.2" r="2.2" fill="#6aa2a6" stroke="#3f7075" stroke-width="0.8"/>
<circle cx="487.3" cy="705.4" r="2.2" fill="#d8b66a" stroke="#a4843a" stroke-width="0.8"/>
<circle cx="487.3" cy="713.6" r="2.2" fill="#98c6b4" stroke="#5f9580" stroke-width="0.8"/>
<circle cx="487.3" cy="721.8" r="2.2" fill="#a0a0a6" stroke="#6c6c72" stroke-width="0.8"/>
<circle cx="487.3" cy="737.8" r="2.2" fill="#6aa2a6" stroke="#3f7075" stroke-width="0.8"/>
<circle cx="487.3" cy="746" r="2.2" fill="#d8b66a" stroke="#a4843a" stroke-width="0.8"/>
<circle cx="487.3" cy="754.2" r="2.2" fill="#98c6b4" stroke="#5f9580" stroke-width="0.8"/>
<circle cx="487.3" cy="762.4" r="2.2" fill="#a0a0a6" stroke="#6c6c72" stroke-width="0.8"/>
<text x="22.3" y="284.2" class="gn" textLength="13.8" lengthAdjust="spacingAndGlyphs">ALK</text>
<text class="yl" x="58.4" y="274.4">2</text>
<text class="yl" x="58.4" y="280.4">0</text>
<text x="80" y="301.5" class="xn">24</text>
<text x="134.3" y="301.5" class="xn">23</text>
<text x="172.8" y="301.5" class="xn">22</text>
<text x="214.5" y="301.5" class="xn">20</text>
<text x="344.5" y="301.5" class="xn">19</text>
<text x="405" y="301.5" class="xn">18</text>
<text x="421" y="301.5" class="xn">17</text>
<text x="458.8" y="301.5" class="xn">16</text>
<text x="22.3" y="322.4" class="gn" textLength="19.9" lengthAdjust="spacingAndGlyphs">BRAF</text>
<text class="yl" x="58.4" y="314.2">2</text>
<text class="yl" x="58.4" y="320.2">0</text>
<text x="78.5" y="340.2" class="xn">18</text>
<text x="100.5" y="340.2" class="xn">17</text>
<text x="140.5" y="340.2" class="xn">16</text>
<text x="156.7" y="340.2" class="xn">15</text>
<text x="249.5" y="340.2" class="xn">13</text>
<text x="280" y="340.2" class="xn">11</text>
<text x="292.4" y="340.2" class="xn">10</text>
<text x="325" y="340.2" class="xn">9</text>
<text x="377" y="340.2" class="xn">8</text>
<text x="414.6" y="340.2" class="xn">7</text>
<text x="421.5" y="340.2" class="xn">6</text>
<text x="461.3" y="340.2" class="xn">5</text>
<text x="22.3" y="361" class="gn" textLength="19.3" lengthAdjust="spacingAndGlyphs">EGFR</text>
<text class="yl" x="58.4" y="354.1">2</text>
<text class="yl" x="58.4" y="360.1">0</text>
<text x="78.3" y="379.6" class="xn">7</text>
<text x="96.1" y="379.6" class="xn">8</text>
<text x="106.8" y="379.6" class="xn">10</text>
<text x="140.9" y="379.6" class="xn">12</text>
<text x="177.5" y="379.6" class="xn">14</text>
<text x="234.7" y="379.6" class="xn">16</text>
<text x="257" y="379.6" class="xn">18</text>
<text x="314.6" y="379.6" class="xn">20</text>
<text x="371.3" y="379.6" class="xn">22</text>
<text x="447" y="379.6" class="xn">24</text>
<text x="461.3" y="379.6" class="xn">26</text>
<text x="22.3" y="404" class="gn" textLength="24.3" lengthAdjust="spacingAndGlyphs">ERBB2</text>
<text class="yl" x="58.4" y="394.3">2</text>
<text class="yl" x="58.4" y="400.3">0</text>
<text x="80.3" y="418" class="xn">3</text>
<text x="110" y="418" class="xn">5</text>
<text x="122.7" y="418" class="xn">7</text>
<text x="164" y="418" class="xn">9</text>
<text x="215.4" y="418" class="xn">11</text>
<text x="231.8" y="418" class="xn">13</text>
<text x="251.1" y="418" class="xn">15</text>
<text x="357" y="418" class="xn">17</text>
<text x="369" y="418" class="xn">19</text>
<text x="393.6" y="418" class="xn">21</text>
<text x="409.4" y="418" class="xn">23</text>
<text x="436.2" y="418" class="xn">25</text>
<text x="459" y="418" class="xn">27</text>
<text x="22.3" y="440" class="gn" textLength="23.4" lengthAdjust="spacingAndGlyphs">FGFR1</text>
<text class="yl" x="58.4" y="431.7">2</text>
<text class="yl" x="58.4" y="437.7">0</text>
<text x="114" y="455.4" class="xn">18</text>
<text x="160.2" y="455.4" class="xn">16</text>
<text x="177" y="455.4" class="xn">14</text>
<text x="207.9" y="455.4" class="xn">13</text>
<text x="247.1" y="455.4" class="xn">12</text>
<text x="271.6" y="455.4" class="xn">10</text>
<text x="298.2" y="455.4" class="xn">9</text>
<text x="342.5" y="455.4" class="xn">8</text>
<text x="392.1" y="455.4" class="xn">7</text>
<text x="423.3" y="455.4" class="xn">6</text>
<text x="460.5" y="455.4" class="xn">5</text>
<text x="22.3" y="477.8" class="gn" textLength="24.1" lengthAdjust="spacingAndGlyphs">FGFR2</text>
<text class="yl" x="58.4" y="468.8">2</text>
<text class="yl" x="58.4" y="474.8">0</text>
<text x="89" y="492.6" class="xn">18</text>
<text x="148" y="492.6" class="xn">17</text>
<text x="171.1" y="492.6" class="xn">16</text>
<text x="205" y="492.6" class="xn">14</text>
<text x="285.2" y="492.6" class="xn">12</text>
<text x="312.6" y="492.6" class="xn">10</text>
<text x="350.3" y="492.6" class="xn">9</text>
<text x="362.7" y="492.6" class="xn">8</text>
<text x="377.7" y="492.6" class="xn">7</text>
<text x="461.3" y="492.6" class="xn">6</text>
<text x="22.3" y="514.4" class="gn" textLength="24.0" lengthAdjust="spacingAndGlyphs">FGFR3</text>
<text class="yl" x="58.4" y="506.6">2</text>
<text class="yl" x="58.4" y="512.6">0</text>
<text x="84" y="530.4" class="xn">8</text>
<text x="134.5" y="530.4" class="xn">9</text>
<text x="166.2" y="530.4" class="xn">10</text>
<text x="207.9" y="530.4" class="xn">11</text>
<text x="224.6" y="530.4" class="xn">12</text>
<text x="246.2" y="530.4" class="xn">13</text>
<text x="270.2" y="530.4" class="xn">14</text>
<text x="288.1" y="530.4" class="xn">15</text>
<text x="327" y="530.4" class="xn">16</text>
<text x="382.9" y="530.4" class="xn">17</text>
<text x="448.9" y="530.4" class="xn">18</text>
<text x="22.3" y="552.5" class="gn" textLength="16.5" lengthAdjust="spacingAndGlyphs">MET</text>
<text class="yl" x="58.4" y="544.3">2</text>
<text class="yl" x="58.4" y="550.3">0</text>
<text x="78.3" y="567.7" class="xn">2</text>
<text x="179.8" y="567.7" class="xn">4</text>
<text x="235.6" y="567.7" class="xn">6</text>
<text x="245.7" y="567.7" class="xn">8</text>
<text x="256.9" y="567.7" class="xn">10</text>
<text x="320.4" y="567.7" class="xn">12</text>
<text x="334.4" y="567.7" class="xn">14</text>
<text x="365.6" y="567.7" class="xn">16</text>
<text x="389.2" y="567.7" class="xn">18</text>
<text x="459" y="567.7" class="xn">20</text>
<text x="22.3" y="595.5" class="gn" textLength="25.1" lengthAdjust="spacingAndGlyphs">NTRK1</text>
<text class="yl" x="58.4" y="586">2</text>
<text class="yl" x="58.4" y="592">0</text>
<text x="125" y="612.5" class="xn">8</text>
<text x="451.2" y="612.5" class="xn">9</text>
<text x="22.3" y="636.5" class="gn" textLength="25.1" lengthAdjust="spacingAndGlyphs">NTRK3</text>
<text class="yl" x="58.4" y="627.8">2</text>
<text class="yl" x="58.4" y="633.8">0</text>
<text x="91" y="650.8" class="xn">14</text>
<text x="458.5" y="650.8" class="xn">13</text>
<text x="22.3" y="679.4" class="gn" textLength="19.0" lengthAdjust="spacingAndGlyphs">RAF1</text>
<text class="yl" x="58.4" y="665.7">2</text>
<text class="yl" x="58.4" y="671.7">0</text>
<text x="88.4" y="693.2" class="xn">10</text>
<text x="181.2" y="693.2" class="xn">9</text>
<text x="218.3" y="693.2" class="xn">8</text>
<text x="447" y="693.2" class="xn">7</text>
<text x="22.3" y="717.4" class="gn" textLength="13.6" lengthAdjust="spacingAndGlyphs">RET</text>
<text class="yl" x="58.4" y="706.9">2</text>
<text class="yl" x="58.4" y="712.9">0</text>
<text x="80.3" y="733.7" class="xn">3</text>
<text x="138" y="733.7" class="xn">4</text>
<text x="194" y="733.7" class="xn">6</text>
<text x="229.8" y="733.7" class="xn">7</text>
<text x="253.5" y="733.7" class="xn">8</text>
<text x="275.7" y="733.7" class="xn">9</text>
<text x="296.7" y="733.7" class="xn">10</text>
<text x="346.5" y="733.7" class="xn">11</text>
<text x="458.5" y="733.7" class="xn">12</text>
<text x="158.2" y="715.6" class="xn">5</text>
<text x="22.3" y="756" class="gn" textLength="19.9" lengthAdjust="spacingAndGlyphs">ROS1</text>
<text class="yl" x="58.4" y="746.3">2</text>
<text class="yl" x="58.4" y="752.3">0</text>
<text x="78.8" y="772.6" class="xn">36</text>
<text x="130.2" y="772.6" class="xn">35</text>
<text x="231.8" y="772.6" class="xn">34</text>
<text x="324.1" y="772.6" class="xn">33</text>
<text x="459" y="772.6" class="xn">32</text>
<text x="490.2" y="279" class="lt">EML4</text>
<text x="490.2" y="287.5" class="lt">STRN</text>
<text x="490.2" y="295.9" class="lt">Other</text>
<text x="490.2" y="316.6" class="lt">SND1</text>
<text x="490.2" y="324.6" class="lt">KIAA1549</text>
<text x="490.2" y="332.6" class="lt">Other</text>
<text x="490.2" y="354.4" class="lt">SEPT14</text>
<text x="490.2" y="362.6" class="lt">ABCB1</text>
<text x="490.2" y="370.7" class="lt">Other</text>
<text x="492.4" y="393.3" class="lt">GRB7</text>
<text x="492.4" y="401.6" class="lt">IKZF3</text>
<text x="492.4" y="409.9" class="lt">Other</text>
<text x="492.2" y="432.7" class="lt">TACC1</text>
<text x="492.2" y="440.5" class="lt">BAG4</text>
<text x="492.2" y="448.5" class="lt">Other</text>
<text x="492.2" y="468.1" class="lt">BICC1</text>
<text x="492.2" y="476.3" class="lt">TACC2</text>
<text x="492.2" y="484.3" class="lt">Other</text>
<text x="492.2" y="507.3" class="lt">TACC3</text>
<text x="492.2" y="516.9" class="lt">Other</text>
<text x="492.2" y="546.5" class="lt">ST7</text>
<text x="492.2" y="555.7" class="lt">Other</text>
<text x="492.9" y="588.2" class="lt">MEF2D</text>
<text x="492.9" y="627.3" class="lt">ETV6</text>
<text x="492.9" y="672.6" class="lt">POC1A</text>
<text x="492.9" y="680" class="lt">Other</text>
<text x="492.9" y="699.3" class="lt">KIF5B</text>
<text x="492.9" y="707.5" class="lt">CCDC6</text>
<text x="492.9" y="715.7" class="lt">NCOA4</text>
<text x="492.9" y="723.9" class="lt">Other</text>
<text x="492.9" y="739.9" class="lt">CD74</text>
<text x="492.9" y="748.1" class="lt">EZR</text>
<text x="492.9" y="756.3" class="lt">GOPC</text>
<text x="492.9" y="764.5" class="lt">Other</text>
</svg></body></html>
